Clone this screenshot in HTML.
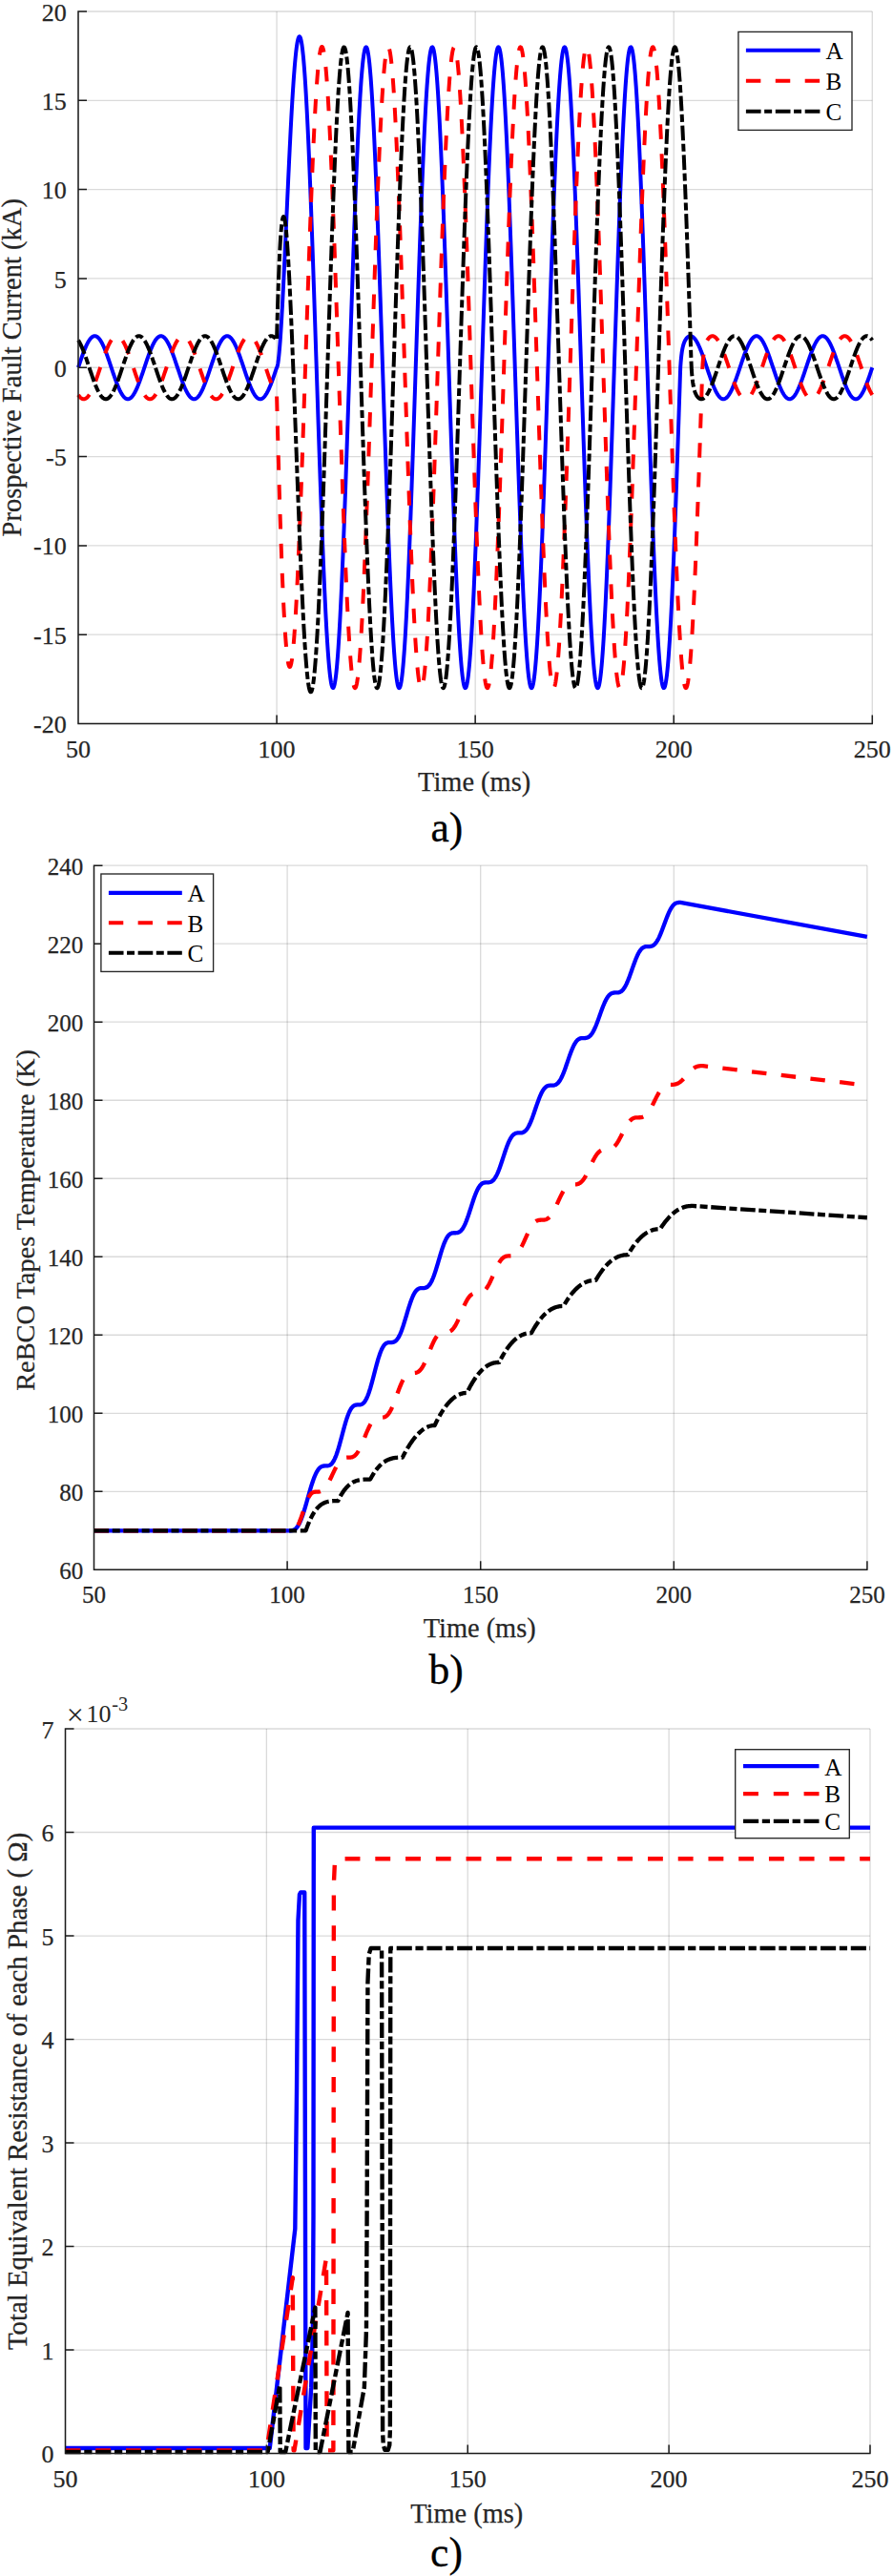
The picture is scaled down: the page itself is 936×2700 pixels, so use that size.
<!DOCTYPE html>
<html lang="en"><head><meta charset="utf-8"><title>Fault current, temperature and resistance</title>
<style>html,body{margin:0;padding:0;background:#fff}svg{display:block}text{font-family:"Liberation Serif", "Times New Roman", serif}</style>
</head><body>
<svg width="936" height="2700" viewBox="0 0 936 2700" role="img" aria-label="Three-phase fault current, ReBCO tape temperature and equivalent resistance versus time">
<rect width="936" height="2700" fill="#fff"/>
<path d="M82 12V758.5M290.07 12V758.5M498.15 12V758.5M706.22 12V758.5M914.3 12V758.5" stroke="#262626" stroke-opacity="0.17" stroke-width="1.3" fill="none"/>
<path d="M82 758.5H914.3M82 665.19H914.3M82 571.88H914.3M82 478.56H914.3M82 385.25H914.3M82 291.94H914.3M82 198.62H914.3M82 105.31H914.3M82 12H914.3" stroke="#262626" stroke-opacity="0.17" stroke-width="1.3" fill="none"/>
<clipPath id="c1"><rect x="79" y="9" width="838.3" height="752.5"/></clipPath>
<g clip-path="url(#c1)" fill="none" stroke-width="4.0" stroke-linejoin="round">
<path d="M82 385.25L82.33 384.25L82.67 383.26L83 382.27L83.33 381.27L83.66 380.29L84 379.31L84.33 378.33L84.66 377.36L85 376.39L85.33 375.44L85.66 374.49L86 373.55L86.33 372.63L86.66 371.71L86.99 370.81L87.33 369.92L87.66 369.05L87.99 368.19L88.33 367.34L88.66 366.51L88.99 365.7L89.32 364.91L89.66 364.13L89.99 363.37L90.32 362.64L90.66 361.92L90.99 361.23L91.32 360.55L91.65 359.9L91.99 359.28L92.32 358.67L92.65 358.09L92.99 357.54L93.32 357.01L93.65 356.51L93.99 356.03L94.32 355.58L94.65 355.15L94.98 354.76L95.32 354.39L95.65 354.05L95.98 353.73L96.32 353.45L96.65 353.19L96.98 352.97L97.31 352.77L97.65 352.6L97.98 352.47L98.31 352.36L98.65 352.28L98.98 352.24L99.31 352.22L99.64 352.23L99.98 352.27L100.31 352.35L100.64 352.45L100.98 352.58L101.31 352.74L101.64 352.93L101.98 353.15L102.31 353.4L102.64 353.68L102.97 353.99L103.31 354.33L103.64 354.69L103.97 355.08L104.31 355.5L104.64 355.95L104.97 356.42L105.3 356.92L105.64 357.45L105.97 358L106.3 358.57L106.64 359.17L106.97 359.8L107.3 360.44L107.63 361.11L107.97 361.8L108.3 362.52L108.63 363.25L108.97 364L109.3 364.78L109.63 365.57L109.97 366.38L110.3 367.2L110.63 368.04L110.96 368.9L111.3 369.77L111.63 370.66L111.96 371.56L112.3 372.47L112.63 373.4L112.96 374.33L113.29 375.28L113.63 376.23L113.96 377.2L114.29 378.17L114.63 379.14L114.96 380.12L115.29 381.11L115.62 382.1L115.96 383.09L116.29 384.09L116.62 385.08L116.96 386.08L117.29 387.08L117.62 388.07L117.96 389.06L118.29 390.05L118.62 391.03L118.95 392.01L119.29 392.98L119.62 393.95L119.95 394.9L120.29 395.85L120.62 396.79L120.95 397.72L121.28 398.63L121.62 399.54L121.95 400.43L122.28 401.31L122.62 402.17L122.95 403.02L123.28 403.85L123.62 404.67L123.95 405.46L124.28 406.24L124.61 407L124.95 407.74L125.28 408.46L125.61 409.16L125.95 409.84L126.28 410.49L126.61 411.12L126.94 411.73L127.28 412.31L127.61 412.87L127.94 413.4L128.28 413.91L128.61 414.39L128.94 414.85L129.27 415.28L129.61 415.68L129.94 416.05L130.27 416.4L130.61 416.72L130.94 417.01L131.27 417.27L131.61 417.5L131.94 417.7L132.27 417.87L132.6 418.01L132.94 418.12L133.27 418.21L133.6 418.26L133.94 418.28L134.27 418.27L134.6 418.24L134.93 418.17L135.27 418.07L135.6 417.94L135.93 417.79L136.27 417.6L136.6 417.38L136.93 417.14L137.26 416.86L137.6 416.56L137.93 416.23L138.26 415.87L138.6 415.48L138.93 415.07L139.26 414.63L139.6 414.16L139.93 413.66L140.26 413.14L140.59 412.59L140.93 412.02L141.26 411.43L141.59 410.81L141.93 410.16L142.26 409.5L142.59 408.81L142.92 408.1L143.26 407.37L143.59 406.62L143.92 405.85L144.26 405.07L144.59 404.26L144.92 403.44L145.25 402.6L145.59 401.74L145.92 400.87L146.25 399.99L146.59 399.09L146.92 398.18L147.25 397.26L147.59 396.32L147.92 395.38L148.25 394.43L148.58 393.46L148.92 392.5L149.25 391.52L149.58 390.54L149.92 389.55L150.25 388.57L150.58 387.57L150.91 386.58L151.25 385.58L151.58 384.59L151.91 383.59L152.25 382.6L152.58 381.6L152.91 380.62L153.24 379.63L153.58 378.65L153.91 377.68L154.24 376.71L154.58 375.76L154.91 374.81L155.24 373.87L155.58 372.94L155.91 372.02L156.24 371.11L156.57 370.22L156.91 369.34L157.24 368.47L157.57 367.62L157.91 366.79L158.24 365.97L158.57 365.17L158.9 364.39L159.24 363.62L159.57 362.88L159.9 362.16L160.24 361.46L160.57 360.78L160.9 360.12L161.23 359.48L161.57 358.87L161.9 358.28L162.23 357.72L162.57 357.18L162.9 356.67L163.23 356.18L163.57 355.72L163.9 355.29L164.23 354.88L164.56 354.51L164.9 354.16L165.23 353.83L165.56 353.54L165.9 353.28L166.23 353.04L166.56 352.83L166.89 352.66L167.23 352.51L167.56 352.39L167.89 352.31L168.23 352.25L168.56 352.22L168.89 352.22L169.23 352.26L169.56 352.32L169.89 352.41L170.22 352.53L170.56 352.68L170.89 352.87L171.22 353.08L171.56 353.32L171.89 353.59L172.22 353.89L172.55 354.21L172.89 354.57L173.22 354.95L173.55 355.36L173.89 355.8L174.22 356.26L174.55 356.75L174.88 357.27L175.22 357.81L175.55 358.38L175.88 358.97L176.22 359.59L176.55 360.23L176.88 360.89L177.22 361.57L177.55 362.28L177.88 363L178.21 363.75L178.55 364.52L178.88 365.3L179.21 366.1L179.55 366.92L179.88 367.76L180.21 368.61L180.54 369.48L180.88 370.36L181.21 371.26L181.54 372.17L181.88 373.09L182.21 374.02L182.54 374.96L182.87 375.91L183.21 376.87L183.54 377.84L183.87 378.82L184.21 379.8L184.54 380.78L184.87 381.77L185.21 382.76L185.54 383.76L185.87 384.75L186.2 385.75L186.54 386.74L186.87 387.74L187.2 388.73L187.54 389.72L187.87 390.7L188.2 391.68L188.53 392.66L188.87 393.63L189.2 394.59L189.53 395.54L189.87 396.48L190.2 397.41L190.53 398.33L190.86 399.24L191.2 400.14L191.53 401.02L191.86 401.89L192.2 402.74L192.53 403.58L192.86 404.4L193.2 405.2L193.53 405.98L193.86 406.75L194.19 407.5L194.53 408.22L194.86 408.93L195.19 409.61L195.53 410.27L195.86 410.91L196.19 411.53L196.52 412.12L196.86 412.69L197.19 413.23L197.52 413.75L197.86 414.24L198.19 414.7L198.52 415.14L198.85 415.55L199.19 415.93L199.52 416.29L199.85 416.61L200.19 416.91L200.52 417.18L200.85 417.42L201.19 417.63L201.52 417.82L201.85 417.97L202.18 418.09L202.52 418.18L202.85 418.24L203.18 418.28L203.52 418.28L203.85 418.25L204.18 418.19L204.51 418.11L204.85 417.99L205.18 417.84L205.51 417.67L205.85 417.46L206.18 417.22L206.51 416.96L206.84 416.67L207.18 416.34L207.51 415.99L207.84 415.62L208.18 415.21L208.51 414.78L208.84 414.32L209.18 413.83L209.51 413.32L209.84 412.78L210.17 412.22L210.51 411.63L210.84 411.02L211.17 410.38L211.51 409.72L211.84 409.04L212.17 408.34L212.5 407.62L212.84 406.88L213.17 406.11L213.5 405.33L213.84 404.53L214.17 403.71L214.5 402.88L214.84 402.03L215.17 401.16L215.5 400.28L215.83 399.39L216.17 398.48L216.5 397.56L216.83 396.63L217.17 395.69L217.5 394.74L217.83 393.79L218.16 392.82L218.5 391.85L218.83 390.87L219.16 389.88L219.5 388.9L219.83 387.9L220.16 386.91L220.49 385.91L220.83 384.92L221.16 383.92L221.49 382.93L221.83 381.93L222.16 380.95L222.49 379.96L222.83 378.98L223.16 378L223.49 377.04L223.82 376.07L224.16 375.12L224.49 374.18L224.82 373.24L225.16 372.32L225.49 371.41L225.82 370.51L226.15 369.63L226.49 368.76L226.82 367.9L227.15 367.06L227.49 366.24L227.82 365.43L228.15 364.65L228.48 363.88L228.82 363.13L229.15 362.4L229.48 361.69L229.82 361L230.15 360.34L230.48 359.69L230.82 359.07L231.15 358.48L231.48 357.91L231.81 357.36L232.15 356.84L232.48 356.34L232.81 355.87L233.15 355.43L233.48 355.02L233.81 354.63L234.14 354.27L234.48 353.94L234.81 353.64L235.14 353.36L235.48 353.12L235.81 352.9L236.14 352.71L236.47 352.56L236.81 352.43L237.14 352.33L237.47 352.26L237.81 352.23L238.14 352.22L238.47 352.24L238.81 352.29L239.14 352.38L239.47 352.49L239.8 352.63L240.14 352.8L240.47 353L240.8 353.23L241.14 353.49L241.47 353.78L241.8 354.1L242.13 354.45L242.47 354.82L242.8 355.22L243.13 355.65L243.47 356.11L243.8 356.59L244.13 357.1L244.46 357.63L244.8 358.19L245.13 358.77L245.46 359.38L245.8 360.01L246.13 360.66L246.46 361.34L246.8 362.04L247.13 362.76L247.46 363.5L247.79 364.26L248.13 365.04L248.46 365.83L248.79 366.65L249.13 367.48L249.46 368.33L249.79 369.19L250.12 370.07L250.46 370.96L250.79 371.87L251.12 372.78L251.46 373.71L251.79 374.65L252.12 375.6L252.46 376.55L252.79 377.52L253.12 378.49L253.45 379.47L253.79 380.45L254.12 381.44L254.45 382.43L254.79 383.42L255.12 384.42L255.45 385.42L255.78 386.41L256.12 387.41L256.45 388.4L256.78 389.39L257.12 390.38L257.45 391.36L257.78 392.33L258.11 393.3L258.45 394.27L258.78 395.22L259.11 396.17L259.45 397.1L259.78 398.03L260.11 398.94L260.45 399.84L260.78 400.73L261.11 401.6L261.44 402.46L261.78 403.3L262.11 404.12L262.44 404.93L262.78 405.72L263.11 406.5L263.44 407.25L263.77 407.98L264.11 408.7L264.44 409.39L264.77 410.06L265.11 410.7L265.44 411.33L265.77 411.93L266.1 412.5L266.44 413.05L266.77 413.58L267.1 414.08L267.44 414.55L267.77 415L268.1 415.42L268.44 415.81L268.77 416.17L269.1 416.51L269.43 416.82L269.77 417.1L270.1 417.35L270.43 417.57L270.77 417.76L271.1 417.92L271.43 418.05L271.76 418.15L272.1 418.23L272.43 418.27L272.76 418.28L273.1 418.26L273.43 418.22L273.76 418.14L274.09 418.03L274.43 417.9L274.76 417.73L275.09 417.53L275.43 417.31L275.76 417.05L276.09 416.77L276.43 416.45L276.76 416.11L277.09 415.74L277.42 415.35L277.76 414.92L278.09 414.47L278.42 413.99L278.76 413.49L279.09 412.96L279.42 412.41L279.75 411.83L280.09 411.22L280.42 410.6L280.75 409.95L281.09 409.27L281.42 408.58L281.75 407.86L282.08 407.13L282.42 406.37L282.75 405.59L283.08 404.8L283.42 403.99L283.75 403.16L284.08 402.31L284.42 401.45L284.75 400.58L285.08 399.69L285.41 398.79L285.75 397.87L286.08 396.95L286.41 396.01L286.75 395.06L287.08 394.11L287.41 393.14L287.74 392.17L288.08 391.19L288.41 390.21L288.74 389.23L289.08 388.23L289.41 387.24L289.74 386.25L290.07 385.25L290.41 384.71L290.74 383.69L291.07 382.21L291.41 380.3L291.74 377.97L292.07 375.25L292.41 372.14L292.74 368.67L293.07 364.85L293.4 360.71L293.74 356.25L294.07 351.51L294.4 346.49L294.74 341.21L295.07 335.68L295.4 329.93L295.73 323.97L296.07 317.81L296.4 311.47L296.73 304.97L297.07 298.32L297.4 291.53L297.73 284.63L298.07 277.61L298.4 270.51L298.73 263.33L299.06 256.08L299.4 248.78L299.73 241.45L300.06 234.09L300.4 226.72L300.73 219.35L301.06 211.99L301.39 204.66L301.73 197.36L302.06 190.11L302.39 182.93L302.73 175.81L303.06 168.78L303.39 161.84L303.72 155L304.06 148.28L304.39 141.68L304.72 135.21L305.06 128.88L305.39 122.71L305.72 116.69L306.06 110.85L306.39 105.18L306.72 99.69L307.05 94.4L307.39 89.31L307.72 84.43L308.05 79.76L308.39 75.31L308.72 71.08L309.05 67.1L309.38 63.34L309.72 59.84L310.05 56.58L310.38 53.58L310.72 50.83L311.05 48.35L311.38 46.13L311.71 44.19L312.05 42.52L312.38 41.12L312.71 40L313.05 39.17L313.38 38.62L313.71 38.35L314.05 38.37L314.38 38.68L314.71 39.27L315.04 40.16L315.38 41.33L315.71 42.79L316.04 44.55L316.38 46.59L316.71 48.91L317.04 51.53L317.37 54.42L317.71 57.6L318.04 61.06L318.37 64.8L318.71 68.81L319.04 73.09L319.37 77.64L319.7 82.46L320.04 87.54L320.37 92.87L320.7 98.46L321.04 104.3L321.37 110.38L321.7 116.7L322.04 123.25L322.37 130.03L322.7 137.03L323.03 144.25L323.37 151.68L323.7 159.31L324.03 167.14L324.37 175.15L324.7 183.35L325.03 191.73L325.36 200.27L325.7 208.98L326.03 217.84L326.36 226.84L326.7 235.99L327.03 245.26L327.36 254.65L327.69 264.16L328.03 273.77L328.36 283.48L328.69 293.28L329.03 303.15L329.36 313.1L329.69 323.1L330.03 333.16L330.36 343.26L330.69 353.4L331.02 363.56L331.36 373.74L331.69 383.92L332.02 394.1L332.36 404.27L332.69 414.42L333.02 424.54L333.35 434.63L333.69 444.66L334.02 454.64L334.35 464.55L334.69 474.39L335.02 484.14L335.35 493.8L335.69 503.37L336.02 512.82L336.35 522.15L336.68 531.36L337.02 540.43L337.35 549.36L337.68 558.14L338.02 566.76L338.35 575.21L338.68 583.49L339.01 591.59L339.35 599.5L339.68 607.21L340.01 614.72L340.35 622.02L340.68 629.1L341.01 635.96L341.34 642.59L341.68 648.98L342.01 655.14L342.34 661.05L342.68 666.7L343.01 672.1L343.34 677.24L343.68 682.11L344.01 686.71L344.34 691.04L344.67 695.08L345.01 698.85L345.34 702.32L345.67 705.51L346.01 708.41L346.34 711.01L346.67 713.32L347 715.33L347.34 717.03L347.67 718.44L348 719.54L348.34 720.33L348.67 720.82L349 721.01L349.33 720.89L349.67 720.46L350 719.73L350.33 718.69L350.67 717.35L351 715.71L351.33 713.77L351.67 711.52L352 708.99L352.33 706.15L352.66 703.02L353 699.61L353.33 695.91L353.66 691.92L354 687.66L354.33 683.12L354.66 678.31L354.99 673.23L355.33 667.89L355.66 662.3L355.99 656.45L356.33 650.35L356.66 644.02L356.99 637.45L357.32 630.64L357.66 623.62L357.99 616.38L358.32 608.93L358.66 601.27L358.99 593.42L359.32 585.38L359.66 577.15L359.99 568.75L360.32 560.19L360.65 551.46L360.99 542.59L361.32 533.57L361.65 524.41L361.99 515.13L362.32 505.73L362.65 496.22L362.98 486.61L363.32 476.91L363.65 467.13L363.98 457.27L364.32 447.34L364.65 437.36L364.98 427.33L365.31 417.26L365.65 407.16L365.98 397.05L366.31 386.92L366.65 376.79L366.98 366.67L367.31 356.56L367.65 346.48L367.98 336.44L368.31 326.44L368.64 316.49L368.98 306.61L369.31 296.8L369.64 287.07L369.98 277.42L370.31 267.88L370.64 258.44L370.97 249.12L371.31 239.92L371.64 230.85L371.97 221.93L372.31 213.15L372.64 204.53L372.97 196.07L373.3 187.79L373.64 179.68L373.97 171.77L374.3 164.04L374.64 156.52L374.97 149.2L375.3 142.1L375.64 135.23L375.97 128.57L376.3 122.16L376.63 115.98L376.97 110.04L377.3 104.36L377.63 98.93L377.97 93.76L378.3 88.86L378.63 84.23L378.96 79.87L379.3 75.79L379.63 71.99L379.96 68.47L380.3 65.24L380.63 62.31L380.96 59.67L381.3 57.32L381.63 55.27L381.96 53.52L382.29 52.08L382.63 50.93L382.96 50.1L383.29 49.56L383.63 49.33L383.96 49.41L384.29 49.79L384.62 50.48L384.96 51.47L385.29 52.76L385.62 54.36L385.96 56.26L386.29 58.46L386.62 60.95L386.95 63.74L387.29 66.82L387.62 70.2L387.95 73.85L388.29 77.8L388.62 82.02L388.95 86.51L389.29 91.28L389.62 96.32L389.95 101.62L390.28 107.17L390.62 112.98L390.95 119.04L391.28 125.34L391.62 131.88L391.95 138.64L392.28 145.63L392.61 152.84L392.95 160.26L393.28 167.89L393.61 175.71L393.95 183.72L394.28 191.92L394.61 200.29L394.94 208.83L395.28 217.53L395.61 226.38L395.94 235.38L396.28 244.52L396.61 253.78L396.94 263.16L397.28 272.65L397.61 282.25L397.94 291.93L398.27 301.71L398.61 311.56L398.94 321.47L399.27 331.45L399.61 341.47L399.94 351.54L400.27 361.63L400.6 371.74L400.94 381.87L401.27 392L401.6 402.13L401.94 412.24L402.27 422.32L402.6 432.37L402.93 442.38L403.27 452.34L403.6 462.23L403.93 472.06L404.27 481.8L404.6 491.46L404.93 501.02L405.27 510.48L405.6 519.82L405.93 529.04L406.26 538.13L406.6 547.08L406.93 555.89L407.26 564.53L407.6 573.02L407.93 581.33L408.26 589.47L408.59 597.42L408.93 605.18L409.26 612.73L409.59 620.08L409.93 627.22L410.26 634.14L410.59 640.83L410.92 647.28L411.26 653.5L411.59 659.48L411.92 665.2L412.26 670.68L412.59 675.89L412.92 680.84L413.26 685.51L413.59 689.92L413.92 694.05L414.25 697.89L414.59 701.46L414.92 704.73L415.25 707.72L415.59 710.41L415.92 712.81L416.25 714.9L416.58 716.7L416.92 718.2L417.25 719.39L417.58 720.28L417.92 720.87L418.25 721.15L418.58 721.12L418.92 720.79L419.25 720.16L419.58 719.22L419.91 717.97L420.25 716.42L420.58 714.58L420.91 712.43L421.25 709.98L421.58 707.24L421.91 704.21L422.24 700.88L422.58 697.27L422.91 693.38L423.24 689.2L423.58 684.75L423.91 680.03L424.24 675.04L424.57 669.78L424.91 664.27L425.24 658.5L425.57 652.48L425.91 646.22L426.24 639.73L426.57 633L426.91 626.05L427.24 618.87L427.57 611.49L427.9 603.9L428.24 596.11L428.57 588.13L428.9 579.96L429.24 571.62L429.57 563.1L429.9 554.43L430.23 545.6L430.57 536.63L430.9 527.52L431.23 518.27L431.57 508.91L431.9 499.44L432.23 489.86L432.56 480.19L432.9 470.43L433.23 460.59L433.56 450.68L433.9 440.72L434.23 430.7L434.56 420.64L434.9 410.55L435.23 400.44L435.56 390.32L435.89 380.18L436.23 370.06L436.56 359.95L436.89 349.86L437.23 339.8L437.56 329.78L437.89 319.82L438.22 309.91L438.56 300.07L438.89 290.31L439.22 280.64L439.56 271.06L439.89 261.59L440.22 252.23L440.55 242.98L440.89 233.87L441.22 224.9L441.55 216.07L441.89 207.4L442.22 198.88L442.55 190.54L442.89 182.37L443.22 174.39L443.55 166.6L443.88 159.01L444.22 151.63L444.55 144.45L444.88 137.5L445.22 130.77L445.55 124.28L445.88 118.02L446.21 112L446.55 106.23L446.88 100.72L447.21 95.46L447.55 90.47L447.88 85.75L448.21 81.3L448.54 77.12L448.88 73.23L449.21 69.62L449.54 66.29L449.88 63.26L450.21 60.52L450.54 58.07L450.88 55.92L451.21 54.08L451.54 52.53L451.87 51.28L452.21 50.34L452.54 49.71L452.87 49.38L453.21 49.35L453.54 49.63L453.87 50.22L454.2 51.11L454.54 52.3L454.87 53.8L455.2 55.6L455.54 57.69L455.87 60.09L456.2 62.78L456.53 65.77L456.87 69.04L457.2 72.61L457.53 76.45L457.87 80.58L458.2 84.99L458.53 89.66L458.87 94.61L459.2 99.82L459.53 105.3L459.86 111.02L460.2 117L460.53 123.22L460.86 129.67L461.2 136.36L461.53 143.28L461.86 150.42L462.19 157.77L462.53 165.32L462.86 173.08L463.19 181.03L463.53 189.17L463.86 197.48L464.19 205.97L464.53 214.61L464.86 223.42L465.19 232.37L465.52 241.46L465.86 250.68L466.19 260.02L466.52 269.48L466.86 279.04L467.19 288.7L467.52 298.44L467.85 308.27L468.19 318.16L468.52 328.12L468.85 338.13L469.19 348.18L469.52 358.26L469.85 368.37L470.18 378.5L470.52 388.63L470.85 398.75L471.18 408.87L471.52 418.96L471.85 429.03L472.18 439.05L472.52 449.03L472.85 458.94L473.18 468.79L473.51 478.56L473.85 488.25L474.18 497.85L474.51 507.34L474.85 516.72L475.18 525.98L475.51 535.12L475.84 544.12L476.18 552.97L476.51 561.67L476.84 570.21L477.18 578.58L477.51 586.78L477.84 594.79L478.17 602.61L478.51 610.24L478.84 617.66L479.17 624.87L479.51 631.86L479.84 638.62L480.17 645.16L480.51 651.46L480.84 657.51L481.17 663.32L481.5 668.88L481.84 674.18L482.17 679.22L482.5 683.98L482.84 688.48L483.17 692.7L483.5 696.64L483.83 700.3L484.17 703.67L484.5 706.76L484.83 709.55L485.17 712.04L485.5 714.24L485.83 716.14L486.16 717.73L486.5 719.03L486.83 720.02L487.16 720.71L487.5 721.09L487.83 721.17L488.16 720.94L488.5 720.4L488.83 719.56L489.16 718.42L489.49 716.97L489.83 715.22L490.16 713.18L490.49 710.83L490.83 708.19L491.16 705.25L491.49 702.02L491.82 698.51L492.16 694.71L492.49 690.63L492.82 686.27L493.16 681.63L493.49 676.73L493.82 671.56L494.15 666.13L494.49 660.45L494.82 654.52L495.15 648.34L495.49 641.92L495.82 635.27L496.15 628.39L496.49 621.29L496.82 613.97L497.15 606.45L497.48 598.73L497.82 590.81L498.15 582.7L498.48 574.42L498.82 565.96L499.15 557.34L499.48 548.56L499.81 539.63L500.15 530.57L500.48 521.37L500.81 512.05L501.15 502.61L501.48 493.06L501.81 483.42L502.15 473.69L502.48 463.88L502.81 453.99L503.14 444.04L503.48 434.04L503.81 424L504.14 413.92L504.48 403.81L504.81 393.69L505.14 383.56L505.47 373.43L505.81 363.31L506.14 353.22L506.47 343.15L506.81 333.12L507.14 323.13L507.47 313.21L507.8 303.35L508.14 293.56L508.47 283.86L508.8 274.24L509.14 264.73L509.47 255.33L509.8 246.05L510.14 236.9L510.47 227.87L510.8 219L511.13 210.27L511.47 201.7L511.8 193.3L512.13 185.08L512.47 177.03L512.8 169.18L513.13 161.52L513.46 154.07L513.8 146.82L514.13 139.79L514.46 132.99L514.8 126.42L515.13 120.08L515.46 113.98L515.79 108.13L516.13 102.53L516.46 97.19L516.79 92.11L517.13 87.29L517.46 82.75L517.79 78.48L518.13 74.49L518.46 70.79L518.79 67.37L519.12 64.24L519.46 61.4L519.79 58.85L520.12 56.61L520.46 54.66L520.79 53.01L521.12 51.67L521.45 50.62L521.79 49.89L522.12 49.45L522.45 49.33L522.79 49.5L523.12 49.99L523.45 50.78L523.78 51.87L524.12 53.27L524.45 54.96L524.78 56.96L525.12 59.26L525.45 61.85L525.78 64.74L526.12 67.92L526.45 71.39L526.78 75.14L527.11 79.17L527.45 83.49L527.78 88.08L528.11 92.93L528.45 98.06L528.78 103.44L529.11 109.08L529.44 114.98L529.78 121.12L530.11 127.49L530.44 134.11L530.78 140.95L531.11 148.01L531.44 155.29L531.77 162.78L532.11 170.47L532.44 178.36L532.77 186.43L533.11 194.69L533.44 203.12L533.77 211.71L534.11 220.47L534.44 229.37L534.77 238.41L535.1 247.59L535.44 256.89L535.77 266.31L536.1 275.84L536.44 285.47L536.77 295.18L537.1 304.98L537.43 314.86L537.77 324.79L538.1 334.79L538.43 344.82L538.77 354.9L539.1 365L539.43 375.12L539.76 385.25L540.1 395.38L540.43 405.5L540.76 415.6L541.1 425.68L541.43 435.71L541.76 445.71L542.1 455.64L542.43 465.52L542.76 475.32L543.09 485.03L543.43 494.66L543.76 504.19L544.09 513.61L544.43 522.91L544.76 532.09L545.09 541.13L545.42 550.03L545.76 558.79L546.09 567.38L546.42 575.81L546.76 584.07L547.09 592.14L547.42 600.03L547.76 607.72L548.09 615.21L548.42 622.49L548.75 629.55L549.09 636.39L549.42 643.01L549.75 649.38L550.09 655.52L550.42 661.42L550.75 667.06L551.08 672.44L551.42 677.57L551.75 682.42L552.08 687.01L552.42 691.33L552.75 695.36L553.08 699.11L553.41 702.58L553.75 705.76L554.08 708.65L554.41 711.24L554.75 713.54L555.08 715.54L555.41 717.23L555.75 718.63L556.08 719.72L556.41 720.51L556.74 721L557.08 721.17L557.41 721.05L557.74 720.61L558.08 719.88L558.41 718.83L558.74 717.49L559.07 715.84L559.41 713.89L559.74 711.65L560.07 709.1L560.41 706.26L560.74 703.13L561.07 699.71L561.4 696.01L561.74 692.02L562.07 687.75L562.4 683.21L562.74 678.39L563.07 673.31L563.4 667.97L563.74 662.37L564.07 656.52L564.4 650.42L564.73 644.08L565.07 637.51L565.4 630.71L565.73 623.68L566.07 616.43L566.4 608.98L566.73 601.32L567.06 593.47L567.4 585.42L567.73 577.2L568.06 568.8L568.4 560.23L568.73 551.5L569.06 542.63L569.39 533.6L569.73 524.45L570.06 515.17L570.39 505.77L570.73 496.26L571.06 486.64L571.39 476.94L571.73 467.15L572.06 457.29L572.39 447.37L572.72 437.38L573.06 427.35L573.39 417.28L573.72 407.19L574.06 397.07L574.39 386.94L574.72 376.81L575.05 366.69L575.39 356.58L575.72 346.5L576.05 336.46L576.39 326.46L576.72 316.51L577.05 306.62L577.38 296.81L577.72 287.08L578.05 277.44L578.38 267.89L578.72 258.45L579.05 249.13L579.38 239.93L579.72 230.87L580.05 221.94L580.38 213.16L580.71 204.54L581.05 196.08L581.38 187.8L581.71 179.69L582.05 171.77L582.38 164.05L582.71 156.53L583.04 149.21L583.38 142.11L583.71 135.23L584.04 128.58L584.38 122.16L584.71 115.98L585.04 110.05L585.38 104.37L585.71 98.94L586.04 93.77L586.37 88.87L586.71 84.23L587.04 79.87L587.37 75.79L587.71 71.99L588.04 68.48L588.37 65.25L588.7 62.31L589.04 59.67L589.37 57.32L589.7 55.28L590.04 53.53L590.37 52.08L590.7 50.94L591.03 50.1L591.37 49.56L591.7 49.33L592.03 49.41L592.37 49.79L592.7 50.48L593.03 51.47L593.37 52.77L593.7 54.36L594.03 56.26L594.36 58.46L594.7 60.95L595.03 63.74L595.36 66.83L595.7 70.2L596.03 73.86L596.36 77.8L596.69 82.02L597.03 86.52L597.36 91.28L597.69 96.32L598.03 101.62L598.36 107.18L598.69 112.99L599.02 119.04L599.36 125.34L599.69 131.88L600.02 138.64L600.36 145.63L600.69 152.84L601.02 160.26L601.36 167.89L601.69 175.71L602.02 183.72L602.35 191.92L602.69 200.29L603.02 208.83L603.35 217.53L603.69 226.38L604.02 235.38L604.35 244.52L604.68 253.78L605.02 263.16L605.35 272.65L605.68 282.25L606.02 291.94L606.35 301.71L606.68 311.56L607.01 321.47L607.35 331.45L607.68 341.47L608.01 351.54L608.35 361.63L608.68 371.75L609.01 381.87L609.35 392L609.68 402.13L610.01 412.24L610.34 422.32L610.68 432.37L611.01 442.38L611.34 452.34L611.68 462.23L612.01 472.06L612.34 481.8L612.67 491.46L613.01 501.02L613.34 510.48L613.67 519.82L614.01 529.04L614.34 538.13L614.67 547.08L615 555.89L615.34 564.53L615.67 573.02L616 581.33L616.34 589.47L616.67 597.42L617 605.18L617.34 612.73L617.67 620.08L618 627.22L618.33 634.14L618.67 640.83L619 647.28L619.33 653.5L619.67 659.48L620 665.2L620.33 670.68L620.66 675.89L621 680.84L621.33 685.51L621.66 689.92L622 694.05L622.33 697.89L622.66 701.46L623 704.73L623.33 707.72L623.66 710.41L623.99 712.81L624.33 714.9L624.66 716.7L624.99 718.2L625.33 719.39L625.66 720.28L625.99 720.87L626.32 721.15L626.66 721.12L626.99 720.79L627.32 720.16L627.66 719.22L627.99 717.97L628.32 716.42L628.65 714.58L628.99 712.43L629.32 709.98L629.65 707.24L629.99 704.21L630.32 700.88L630.65 697.27L630.99 693.38L631.32 689.2L631.65 684.75L631.98 680.03L632.32 675.04L632.65 669.78L632.98 664.27L633.32 658.5L633.65 652.48L633.98 646.22L634.31 639.73L634.65 633L634.98 626.05L635.31 618.87L635.65 611.49L635.98 603.9L636.31 596.11L636.64 588.13L636.98 579.96L637.31 571.62L637.64 563.1L637.98 554.43L638.31 545.6L638.64 536.63L638.98 527.52L639.31 518.27L639.64 508.91L639.97 499.44L640.31 489.86L640.64 480.19L640.97 470.43L641.31 460.59L641.64 450.68L641.97 440.72L642.3 430.7L642.64 420.64L642.97 410.55L643.3 400.44L643.64 390.32L643.97 380.18L644.3 370.06L644.63 359.95L644.97 349.86L645.3 339.8L645.63 329.78L645.97 319.82L646.3 309.91L646.63 300.07L646.97 290.31L647.3 280.64L647.63 271.06L647.96 261.59L648.3 252.23L648.63 242.98L648.96 233.87L649.3 224.9L649.63 216.07L649.96 207.4L650.29 198.88L650.63 190.54L650.96 182.37L651.29 174.39L651.63 166.6L651.96 159.01L652.29 151.63L652.62 144.45L652.96 137.5L653.29 130.77L653.62 124.28L653.96 118.02L654.29 112L654.62 106.23L654.96 100.72L655.29 95.46L655.62 90.47L655.95 85.75L656.29 81.3L656.62 77.12L656.95 73.23L657.29 69.62L657.62 66.29L657.95 63.26L658.28 60.52L658.62 58.07L658.95 55.92L659.28 54.08L659.62 52.53L659.95 51.28L660.28 50.34L660.61 49.71L660.95 49.38L661.28 49.35L661.61 49.63L661.95 50.22L662.28 51.11L662.61 52.3L662.95 53.8L663.28 55.6L663.61 57.69L663.94 60.09L664.28 62.78L664.61 65.77L664.94 69.04L665.28 72.61L665.61 76.45L665.94 80.58L666.27 84.99L666.61 89.66L666.94 94.61L667.27 99.82L667.61 105.3L667.94 111.02L668.27 117L668.61 123.22L668.94 129.67L669.27 136.36L669.6 143.28L669.94 150.42L670.27 157.77L670.6 165.32L670.94 173.08L671.27 181.03L671.6 189.17L671.93 197.48L672.27 205.97L672.6 214.61L672.93 223.42L673.27 232.37L673.6 241.46L673.93 250.68L674.26 260.02L674.6 269.48L674.93 279.04L675.26 288.7L675.6 298.44L675.93 308.27L676.26 318.16L676.6 328.12L676.93 338.13L677.26 348.18L677.59 358.26L677.93 368.37L678.26 378.5L678.59 388.63L678.93 398.75L679.26 408.87L679.59 418.96L679.92 429.03L680.26 439.05L680.59 449.03L680.92 458.94L681.26 468.79L681.59 478.56L681.92 488.25L682.25 497.85L682.59 507.34L682.92 516.72L683.25 525.98L683.59 535.12L683.92 544.12L684.25 552.97L684.59 561.67L684.92 570.21L685.25 578.58L685.58 586.78L685.92 594.79L686.25 602.61L686.58 610.24L686.92 617.66L687.25 624.87L687.58 631.86L687.91 638.62L688.25 645.16L688.58 651.46L688.91 657.51L689.25 663.32L689.58 668.88L689.91 674.18L690.24 679.22L690.58 683.98L690.91 688.48L691.24 692.7L691.58 696.64L691.91 700.3L692.24 703.67L692.58 706.76L692.91 709.55L693.24 712.04L693.57 714.24L693.91 716.14L694.24 717.73L694.57 719.03L694.91 720.02L695.24 720.71L695.57 721.09L695.9 721.17L696.24 720.94L696.57 720.4L696.9 719.56L697.24 718.42L697.57 716.97L697.9 715.22L698.23 713.18L698.57 710.83L698.9 708.19L699.23 705.25L699.57 702.02L699.9 698.51L700.23 694.71L700.57 690.63L700.9 686.27L701.23 681.63L701.56 676.73L701.9 671.56L702.23 666.13L702.56 660.45L702.9 654.52L703.23 648.34L703.56 641.92L703.89 635.27L704.23 628.39L704.56 621.29L704.89 613.97L705.23 606.45L705.56 598.73L705.89 590.81L706.22 582.7L706.56 574.42L706.89 565.96L707.22 557.34L707.56 548.56L707.89 539.63L708.22 530.57L708.56 521.37L708.89 512.05L709.22 502.61L709.55 493.06L709.89 483.42L710.22 473.69L710.55 463.88L710.89 453.99L711.22 444.04L711.55 434.04L711.88 424L712.22 413.92L712.55 403.81L712.88 393.69L713.22 384.39L713.55 379.78L713.88 375.96L714.22 372.79L714.55 370.13L714.88 367.88L715.21 365.97L715.55 364.33L715.88 362.91L716.21 361.67L716.55 360.57L716.88 359.61L717.21 358.74L717.54 357.97L717.88 357.27L718.21 356.63L718.54 356.06L718.88 355.54L719.21 355.06L719.54 354.63L719.87 354.24L720.21 353.89L720.54 353.57L720.87 353.29L721.21 353.05L721.54 352.83L721.87 352.65L722.21 352.51L722.54 352.39L722.87 352.31L723.2 352.25L723.54 352.23L723.87 352.24L724.2 352.28L724.54 352.35L724.87 352.45L725.2 352.58L725.53 352.75L725.87 352.94L726.2 353.16L726.53 353.41L726.87 353.69L727.2 353.99L727.53 354.33L727.86 354.69L728.2 355.09L728.53 355.5L728.86 355.95L729.2 356.42L729.53 356.92L729.86 357.45L730.2 358L730.53 358.58L730.86 359.17L731.19 359.8L731.53 360.44L731.86 361.11L732.19 361.8L732.53 362.52L732.86 363.25L733.19 364L733.52 364.78L733.86 365.57L734.19 366.38L734.52 367.2L734.86 368.04L735.19 368.9L735.52 369.77L735.85 370.66L736.19 371.56L736.52 372.47L736.85 373.4L737.19 374.33L737.52 375.28L737.85 376.23L738.19 377.2L738.52 378.17L738.85 379.14L739.18 380.12L739.52 381.11L739.85 382.1L740.18 383.09L740.52 384.09L740.85 385.08L741.18 386.08L741.51 387.08L741.85 388.07L742.18 389.06L742.51 390.05L742.85 391.03L743.18 392.01L743.51 392.98L743.84 393.95L744.18 394.9L744.51 395.85L744.84 396.79L745.18 397.72L745.51 398.63L745.84 399.54L746.18 400.43L746.51 401.31L746.84 402.17L747.17 403.02L747.51 403.85L747.84 404.67L748.17 405.46L748.51 406.24L748.84 407L749.17 407.74L749.5 408.46L749.84 409.16L750.17 409.84L750.5 410.49L750.84 411.12L751.17 411.73L751.5 412.31L751.84 412.87L752.17 413.4L752.5 413.91L752.83 414.39L753.17 414.85L753.5 415.28L753.83 415.68L754.17 416.05L754.5 416.4L754.83 416.72L755.16 417.01L755.5 417.27L755.83 417.5L756.16 417.7L756.5 417.87L756.83 418.01L757.16 418.12L757.49 418.21L757.83 418.26L758.16 418.28L758.49 418.27L758.83 418.24L759.16 418.17L759.49 418.07L759.83 417.94L760.16 417.79L760.49 417.6L760.82 417.38L761.16 417.14L761.49 416.86L761.82 416.56L762.16 416.23L762.49 415.87L762.82 415.48L763.15 415.07L763.49 414.63L763.82 414.16L764.15 413.66L764.49 413.14L764.82 412.59L765.15 412.02L765.48 411.43L765.82 410.81L766.15 410.16L766.48 409.5L766.82 408.81L767.15 408.1L767.48 407.37L767.82 406.62L768.15 405.85L768.48 405.07L768.81 404.26L769.15 403.44L769.48 402.6L769.81 401.74L770.15 400.87L770.48 399.99L770.81 399.09L771.14 398.18L771.48 397.26L771.81 396.32L772.14 395.38L772.48 394.43L772.81 393.46L773.14 392.5L773.47 391.52L773.81 390.54L774.14 389.55L774.47 388.57L774.81 387.57L775.14 386.58L775.47 385.58L775.81 384.59L776.14 383.59L776.47 382.6L776.8 381.6L777.14 380.62L777.47 379.63L777.8 378.65L778.14 377.68L778.47 376.71L778.8 375.76L779.13 374.81L779.47 373.87L779.8 372.94L780.13 372.02L780.47 371.11L780.8 370.22L781.13 369.34L781.46 368.47L781.8 367.62L782.13 366.79L782.46 365.97L782.8 365.17L783.13 364.39L783.46 363.62L783.8 362.88L784.13 362.16L784.46 361.46L784.79 360.78L785.13 360.12L785.46 359.48L785.79 358.87L786.13 358.28L786.46 357.72L786.79 357.18L787.12 356.67L787.46 356.18L787.79 355.72L788.12 355.29L788.46 354.88L788.79 354.51L789.12 354.16L789.45 353.83L789.79 353.54L790.12 353.28L790.45 353.04L790.79 352.83L791.12 352.66L791.45 352.51L791.79 352.39L792.12 352.31L792.45 352.25L792.78 352.22L793.12 352.22L793.45 352.26L793.78 352.32L794.12 352.41L794.45 352.53L794.78 352.68L795.11 352.87L795.45 353.08L795.78 353.32L796.11 353.59L796.45 353.89L796.78 354.21L797.11 354.57L797.45 354.95L797.78 355.36L798.11 355.8L798.44 356.26L798.78 356.75L799.11 357.27L799.44 357.81L799.78 358.38L800.11 358.97L800.44 359.59L800.77 360.23L801.11 360.89L801.44 361.57L801.77 362.28L802.11 363L802.44 363.75L802.77 364.52L803.1 365.3L803.44 366.1L803.77 366.92L804.1 367.76L804.44 368.61L804.77 369.48L805.1 370.36L805.44 371.26L805.77 372.17L806.1 373.09L806.43 374.02L806.77 374.96L807.1 375.91L807.43 376.87L807.77 377.84L808.1 378.82L808.43 379.8L808.76 380.78L809.1 381.77L809.43 382.76L809.76 383.76L810.1 384.75L810.43 385.75L810.76 386.74L811.09 387.74L811.43 388.73L811.76 389.72L812.09 390.7L812.43 391.68L812.76 392.66L813.09 393.63L813.43 394.59L813.76 395.54L814.09 396.48L814.42 397.41L814.76 398.33L815.09 399.24L815.42 400.14L815.76 401.02L816.09 401.89L816.42 402.74L816.75 403.58L817.09 404.4L817.42 405.2L817.75 405.98L818.09 406.75L818.42 407.5L818.75 408.22L819.08 408.93L819.42 409.61L819.75 410.27L820.08 410.91L820.42 411.53L820.75 412.12L821.08 412.69L821.42 413.23L821.75 413.75L822.08 414.24L822.41 414.7L822.75 415.14L823.08 415.55L823.41 415.93L823.75 416.29L824.08 416.61L824.41 416.91L824.74 417.18L825.08 417.42L825.41 417.63L825.74 417.82L826.08 417.97L826.41 418.09L826.74 418.18L827.07 418.24L827.41 418.28L827.74 418.28L828.07 418.25L828.41 418.19L828.74 418.11L829.07 417.99L829.41 417.84L829.74 417.67L830.07 417.46L830.4 417.22L830.74 416.96L831.07 416.67L831.4 416.34L831.74 415.99L832.07 415.62L832.4 415.21L832.73 414.78L833.07 414.32L833.4 413.83L833.73 413.32L834.07 412.78L834.4 412.22L834.73 411.63L835.07 411.02L835.4 410.38L835.73 409.72L836.06 409.04L836.4 408.34L836.73 407.62L837.06 406.88L837.4 406.11L837.73 405.33L838.06 404.53L838.39 403.71L838.73 402.88L839.06 402.03L839.39 401.16L839.73 400.28L840.06 399.39L840.39 398.48L840.72 397.56L841.06 396.63L841.39 395.69L841.72 394.74L842.06 393.79L842.39 392.82L842.72 391.85L843.06 390.87L843.39 389.88L843.72 388.9L844.05 387.9L844.39 386.91L844.72 385.91L845.05 384.92L845.39 383.92L845.72 382.93L846.05 381.93L846.38 380.95L846.72 379.96L847.05 378.98L847.38 378L847.72 377.04L848.05 376.07L848.38 375.12L848.71 374.18L849.05 373.24L849.38 372.32L849.71 371.41L850.05 370.51L850.38 369.63L850.71 368.76L851.05 367.9L851.38 367.06L851.71 366.24L852.04 365.43L852.38 364.65L852.71 363.88L853.04 363.13L853.38 362.4L853.71 361.69L854.04 361L854.37 360.34L854.71 359.69L855.04 359.07L855.37 358.48L855.71 357.91L856.04 357.36L856.37 356.84L856.7 356.34L857.04 355.87L857.37 355.43L857.7 355.02L858.04 354.63L858.37 354.27L858.7 353.94L859.04 353.64L859.37 353.36L859.7 353.12L860.03 352.9L860.37 352.71L860.7 352.56L861.03 352.43L861.37 352.33L861.7 352.26L862.03 352.23L862.36 352.22L862.7 352.24L863.03 352.29L863.36 352.38L863.7 352.49L864.03 352.63L864.36 352.8L864.69 353L865.03 353.23L865.36 353.49L865.69 353.78L866.03 354.1L866.36 354.45L866.69 354.82L867.03 355.22L867.36 355.65L867.69 356.11L868.02 356.59L868.36 357.1L868.69 357.63L869.02 358.19L869.36 358.77L869.69 359.38L870.02 360.01L870.35 360.66L870.69 361.34L871.02 362.04L871.35 362.76L871.69 363.5L872.02 364.26L872.35 365.04L872.68 365.83L873.02 366.65L873.35 367.48L873.68 368.33L874.02 369.19L874.35 370.07L874.68 370.96L875.02 371.87L875.35 372.78L875.68 373.71L876.01 374.65L876.35 375.6L876.68 376.55L877.01 377.52L877.35 378.49L877.68 379.47L878.01 380.45L878.34 381.44L878.68 382.43L879.01 383.42L879.34 384.42L879.68 385.42L880.01 386.41L880.34 387.41L880.68 388.4L881.01 389.39L881.34 390.38L881.67 391.36L882.01 392.33L882.34 393.3L882.67 394.27L883.01 395.22L883.34 396.17L883.67 397.1L884 398.03L884.34 398.94L884.67 399.84L885 400.73L885.34 401.6L885.67 402.46L886 403.3L886.33 404.12L886.67 404.93L887 405.72L887.33 406.5L887.67 407.25L888 407.98L888.33 408.7L888.67 409.39L889 410.06L889.33 410.7L889.66 411.33L890 411.93L890.33 412.5L890.66 413.05L891 413.58L891.33 414.08L891.66 414.55L891.99 415L892.33 415.42L892.66 415.81L892.99 416.17L893.33 416.51L893.66 416.82L893.99 417.1L894.32 417.35L894.66 417.57L894.99 417.76L895.32 417.92L895.66 418.05L895.99 418.15L896.32 418.23L896.66 418.27L896.99 418.28L897.32 418.26L897.65 418.22L897.99 418.14L898.32 418.03L898.65 417.9L898.99 417.73L899.32 417.53L899.65 417.31L899.98 417.05L900.32 416.77L900.65 416.45L900.98 416.11L901.32 415.74L901.65 415.35L901.98 414.92L902.31 414.47L902.65 413.99L902.98 413.49L903.31 412.96L903.65 412.41L903.98 411.83L904.31 411.22L904.65 410.6L904.98 409.95L905.31 409.27L905.64 408.58L905.98 407.86L906.31 407.13L906.64 406.37L906.98 405.59L907.31 404.8L907.64 403.99L907.97 403.16L908.31 402.31L908.64 401.45L908.97 400.58L909.31 399.69L909.64 398.79L909.97 397.87L910.3 396.95L910.64 396.01L910.97 395.06L911.3 394.11L911.64 393.14L911.97 392.17L912.3 391.19L912.64 390.21L912.97 389.23L913.3 388.23L913.63 387.24L913.97 386.25L914.3 385.25" stroke="#0000ff"/>
<path d="M82 413.86L82.33 414.34L82.67 414.8L83 415.23L83.33 415.64L83.66 416.01L84 416.36L84.33 416.68L84.66 416.97L85 417.24L85.33 417.47L85.66 417.68L86 417.85L86.33 418L86.66 418.11L86.99 418.2L87.33 418.25L87.66 418.28L87.99 418.28L88.33 418.24L88.66 418.18L88.99 418.08L89.32 417.96L89.66 417.81L89.99 417.62L90.32 417.41L90.66 417.17L90.99 416.9L91.32 416.6L91.65 416.27L91.99 415.91L92.32 415.53L92.65 415.12L92.99 414.68L93.32 414.21L93.65 413.72L93.99 413.2L94.32 412.66L94.65 412.09L94.98 411.49L95.32 410.88L95.65 410.24L95.98 409.57L96.32 408.89L96.65 408.18L96.98 407.46L97.31 406.71L97.65 405.94L97.98 405.16L98.31 404.35L98.65 403.53L98.98 402.69L99.31 401.84L99.64 400.97L99.98 400.09L100.31 399.19L100.64 398.28L100.98 397.36L101.31 396.43L101.64 395.48L101.98 394.53L102.31 393.57L102.64 392.6L102.97 391.63L103.31 390.65L103.64 389.66L103.97 388.68L104.31 387.68L104.64 386.69L104.97 385.69L105.3 384.7L105.64 383.7L105.97 382.71L106.3 381.71L106.64 380.73L106.97 379.74L107.3 378.76L107.63 377.79L107.97 376.82L108.3 375.86L108.63 374.91L108.97 373.97L109.3 373.04L109.63 372.12L109.97 371.21L110.3 370.32L110.63 369.43L110.96 368.57L111.3 367.71L111.63 366.88L111.96 366.06L112.3 365.26L112.63 364.47L112.96 363.71L113.29 362.96L113.63 362.24L113.96 361.53L114.29 360.85L114.63 360.19L114.96 359.55L115.29 358.94L115.62 358.35L115.96 357.78L116.29 357.24L116.62 356.73L116.96 356.24L117.29 355.77L117.62 355.34L117.96 354.93L118.29 354.55L118.62 354.19L118.95 353.87L119.29 353.57L119.62 353.3L119.95 353.07L120.29 352.86L120.62 352.68L120.95 352.52L121.28 352.4L121.62 352.31L121.95 352.25L122.28 352.22L122.62 352.22L122.95 352.25L123.28 352.31L123.62 352.4L123.95 352.52L124.28 352.67L124.61 352.84L124.95 353.05L125.28 353.29L125.61 353.56L125.95 353.85L126.28 354.17L126.61 354.53L126.94 354.91L127.28 355.31L127.61 355.75L127.94 356.21L128.28 356.7L128.61 357.21L128.94 357.75L129.27 358.32L129.61 358.91L129.94 359.52L130.27 360.15L130.61 360.81L130.94 361.49L131.27 362.2L131.61 362.92L131.94 363.67L132.27 364.43L132.6 365.21L132.94 366.01L133.27 366.83L133.6 367.67L133.94 368.52L134.27 369.38L134.6 370.27L134.93 371.16L135.27 372.07L135.6 372.99L135.93 373.92L136.27 374.86L136.6 375.81L136.93 376.77L137.26 377.73L137.6 378.71L137.93 379.69L138.26 380.67L138.6 381.66L138.93 382.65L139.26 383.65L139.6 384.64L139.93 385.64L140.26 386.63L140.59 387.63L140.93 388.62L141.26 389.61L141.59 390.6L141.93 391.58L142.26 392.55L142.59 393.52L142.92 394.48L143.26 395.43L143.59 396.37L143.92 397.31L144.26 398.23L144.59 399.14L144.92 400.04L145.25 400.92L145.59 401.79L145.92 402.64L146.25 403.48L146.59 404.31L146.92 405.11L147.25 405.9L147.59 406.67L147.92 407.41L148.25 408.14L148.58 408.85L148.92 409.54L149.25 410.2L149.58 410.84L149.92 411.46L150.25 412.06L150.58 412.62L150.91 413.17L151.25 413.69L151.58 414.18L151.91 414.65L152.25 415.09L152.58 415.51L152.91 415.89L153.24 416.25L153.58 416.58L153.91 416.88L154.24 417.15L154.58 417.4L154.91 417.61L155.24 417.8L155.58 417.95L155.91 418.08L156.24 418.17L156.57 418.24L156.91 418.28L157.24 418.28L157.57 418.26L157.91 418.2L158.24 418.12L158.57 418L158.9 417.86L159.24 417.69L159.57 417.48L159.9 417.25L160.24 416.99L160.57 416.7L160.9 416.38L161.23 416.03L161.57 415.66L161.9 415.26L162.23 414.83L162.57 414.37L162.9 413.88L163.23 413.38L163.57 412.84L163.9 412.28L164.23 411.69L164.56 411.09L164.9 410.45L165.23 409.8L165.56 409.12L165.9 408.42L166.23 407.7L166.56 406.96L166.89 406.2L167.23 405.42L167.56 404.62L167.89 403.81L168.23 402.97L168.56 402.12L168.89 401.26L169.23 400.38L169.56 399.49L169.89 398.58L170.22 397.67L170.56 396.74L170.89 395.8L171.22 394.85L171.56 393.89L171.89 392.93L172.22 391.96L172.55 390.98L172.89 389.99L173.22 389.01L173.55 388.01L173.89 387.02L174.22 386.02L174.55 385.03L174.88 384.03L175.22 383.04L175.55 382.04L175.88 381.06L176.22 380.07L176.55 379.09L176.88 378.11L177.22 377.14L177.55 376.18L177.88 375.23L178.21 374.28L178.55 373.35L178.88 372.42L179.21 371.51L179.55 370.61L179.88 369.73L180.21 368.85L180.54 368L180.88 367.15L181.21 366.33L181.54 365.52L181.88 364.73L182.21 363.96L182.54 363.21L182.87 362.48L183.21 361.77L183.54 361.08L183.87 360.41L184.21 359.76L184.54 359.14L184.87 358.54L185.21 357.97L185.54 357.42L185.87 356.9L186.2 356.4L186.54 355.93L186.87 355.48L187.2 355.06L187.54 354.67L187.87 354.31L188.2 353.97L188.53 353.67L188.87 353.39L189.2 353.14L189.53 352.92L189.87 352.73L190.2 352.57L190.53 352.44L190.86 352.34L191.2 352.27L191.53 352.23L191.86 352.22L192.2 352.24L192.53 352.29L192.86 352.37L193.2 352.47L193.53 352.61L193.86 352.78L194.19 352.98L194.53 353.21L194.86 353.46L195.19 353.75L195.53 354.06L195.86 354.41L196.19 354.78L196.52 355.18L196.86 355.6L197.19 356.05L197.52 356.53L197.86 357.04L198.19 357.57L198.52 358.13L198.85 358.71L199.19 359.31L199.52 359.94L199.85 360.59L200.19 361.27L200.52 361.96L200.85 362.68L201.19 363.42L201.52 364.17L201.85 364.95L202.18 365.74L202.52 366.56L202.85 367.39L203.18 368.23L203.52 369.09L203.85 369.97L204.18 370.86L204.51 371.76L204.85 372.68L205.18 373.61L205.51 374.54L205.85 375.49L206.18 376.45L206.51 377.41L206.84 378.38L207.18 379.36L207.51 380.34L207.84 381.33L208.18 382.32L208.51 383.31L208.84 384.31L209.18 385.31L209.51 386.3L209.84 387.3L210.17 388.29L210.51 389.28L210.84 390.27L211.17 391.25L211.51 392.23L211.84 393.2L212.17 394.16L212.5 395.11L212.84 396.06L213.17 397L213.5 397.92L213.84 398.84L214.17 399.74L214.5 400.63L214.84 401.5L215.17 402.36L215.5 403.21L215.83 404.03L216.17 404.84L216.5 405.64L216.83 406.41L217.17 407.17L217.5 407.9L217.83 408.62L218.16 409.31L218.5 409.98L218.83 410.63L219.16 411.26L219.5 411.86L219.83 412.44L220.16 412.99L220.49 413.52L220.83 414.02L221.16 414.5L221.49 414.95L221.83 415.37L222.16 415.77L222.49 416.13L222.83 416.47L223.16 416.78L223.49 417.07L223.82 417.32L224.16 417.54L224.49 417.74L224.82 417.9L225.16 418.04L225.49 418.14L225.82 418.22L226.15 418.27L226.49 418.28L226.82 418.27L227.15 418.22L227.49 418.15L227.82 418.05L228.15 417.91L228.48 417.75L228.82 417.56L229.15 417.33L229.48 417.08L229.82 416.8L230.15 416.49L230.48 416.15L230.82 415.79L231.15 415.39L231.48 414.97L231.81 414.52L232.15 414.05L232.48 413.55L232.81 413.02L233.15 412.47L233.48 411.89L233.81 411.29L234.14 410.67L234.48 410.02L234.81 409.35L235.14 408.66L235.48 407.94L235.81 407.21L236.14 406.45L236.47 405.68L236.81 404.89L237.14 404.08L237.47 403.25L237.81 402.41L238.14 401.55L238.47 400.68L238.81 399.79L239.14 398.89L239.47 397.97L239.8 397.05L240.14 396.11L240.47 395.17L240.8 394.21L241.14 393.25L241.47 392.28L241.8 391.3L242.13 390.32L242.47 389.34L242.8 388.34L243.13 387.35L243.47 386.36L243.8 385.36L244.13 384.36L244.46 383.37L244.8 382.38L245.13 381.38L245.46 380.4L245.8 379.41L246.13 378.44L246.46 377.46L246.8 376.5L247.13 375.54L247.46 374.6L247.79 373.66L248.13 372.73L248.46 371.81L248.79 370.91L249.13 370.02L249.46 369.14L249.79 368.28L250.12 367.43L250.46 366.6L250.79 365.79L251.12 364.99L251.46 364.22L251.79 363.46L252.12 362.72L252.46 362L252.79 361.3L253.12 360.63L253.45 359.98L253.79 359.35L254.12 358.74L254.45 358.16L254.79 357.6L255.12 357.07L255.45 356.56L255.78 356.08L256.12 355.63L256.45 355.2L256.78 354.8L257.12 354.43L257.45 354.08L257.78 353.77L258.11 353.48L258.45 353.22L258.78 352.99L259.11 352.79L259.45 352.62L259.78 352.48L260.11 352.37L260.45 352.29L260.78 352.24L261.11 352.22L261.44 352.23L261.78 352.27L262.11 352.34L262.44 352.43L262.78 352.56L263.11 352.72L263.44 352.91L263.77 353.13L264.11 353.38L264.44 353.65L264.77 353.96L265.11 354.29L265.44 354.65L265.77 355.04L266.1 355.46L266.44 355.9L266.77 356.37L267.1 356.87L267.44 357.39L267.77 357.94L268.1 358.51L268.44 359.11L268.77 359.73L269.1 360.37L269.43 361.04L269.77 361.73L270.1 362.44L270.43 363.17L270.77 363.92L271.1 364.69L271.43 365.48L271.76 366.28L272.1 367.11L272.43 367.95L272.76 368.81L273.1 369.68L273.43 370.56L273.76 371.46L274.09 372.37L274.43 373.3L274.76 374.23L275.09 375.17L275.43 376.13L275.76 377.09L276.09 378.06L276.43 379.03L276.76 380.01L277.09 381L277.42 381.99L277.76 382.98L278.09 383.98L278.42 384.97L278.76 385.97L279.09 386.96L279.42 387.96L279.75 388.95L280.09 389.94L280.42 390.92L280.75 391.9L281.09 392.87L281.42 393.84L281.75 394.8L282.08 395.75L282.42 396.69L282.75 397.62L283.08 398.53L283.42 399.44L283.75 400.33L284.08 401.21L284.42 402.08L284.75 402.93L285.08 403.76L285.41 404.58L285.75 405.38L286.08 406.16L286.41 406.92L286.75 407.66L287.08 408.38L287.41 409.08L287.74 409.76L288.08 410.42L288.41 411.05L288.74 411.66L289.08 412.25L289.41 412.81L289.74 413.35L290.07 413.86L290.41 427.28L290.74 440.41L291.07 453.24L291.41 465.77L291.74 477.99L292.07 489.91L292.41 501.51L292.74 512.81L293.07 523.79L293.4 534.46L293.74 544.81L294.07 554.84L294.4 564.55L294.74 573.94L295.07 583L295.4 591.73L295.73 600.12L296.07 608.19L296.4 615.92L296.73 623.32L297.07 630.37L297.4 637.09L297.73 643.47L298.07 649.5L298.4 655.19L298.73 660.53L299.06 665.53L299.4 670.18L299.73 674.48L300.06 678.43L300.4 682.04L300.73 685.29L301.06 688.2L301.39 690.76L301.73 692.98L302.06 694.85L302.39 696.37L302.73 697.54L303.06 698.38L303.39 698.87L303.72 699.02L304.06 698.83L304.39 698.31L304.72 697.45L305.06 696.27L305.39 694.75L305.72 692.91L306.06 690.76L306.39 688.28L306.72 685.49L307.05 682.39L307.39 678.98L307.72 675.27L308.05 671.27L308.39 666.97L308.72 662.39L309.05 657.53L309.38 652.39L309.72 646.98L310.05 641.31L310.38 635.39L310.72 629.21L311.05 622.78L311.38 616.12L311.71 609.23L312.05 602.11L312.38 594.78L312.71 587.23L313.05 579.49L313.38 571.55L313.71 563.43L314.05 555.13L314.38 546.65L314.71 538.02L315.04 529.24L315.38 520.31L315.71 511.24L316.04 502.05L316.38 492.73L316.71 483.31L317.04 473.79L317.37 464.18L317.71 454.49L318.04 444.72L318.37 434.89L318.71 425.01L319.04 415.08L319.37 405.11L319.7 395.12L320.04 385.11L320.37 375.1L320.7 365.08L321.04 355.08L321.37 345.1L321.7 335.15L322.04 325.24L322.37 315.38L322.7 305.58L323.03 295.84L323.37 286.18L323.7 276.6L324.03 267.12L324.37 257.74L324.7 248.48L325.03 239.33L325.36 230.31L325.7 221.43L326.03 212.69L326.36 204.11L326.7 195.69L327.03 187.44L327.36 179.36L327.69 171.47L328.03 163.77L328.36 156.27L328.69 148.97L329.03 141.89L329.36 135.02L329.69 128.38L330.03 121.98L330.36 115.8L330.69 109.88L331.02 104.2L331.36 98.77L331.69 93.6L332.02 88.7L332.36 84.06L332.69 79.7L333.02 75.61L333.35 71.8L333.69 68.28L334.02 65.04L334.35 62.1L334.69 59.44L335.02 57.08L335.35 55.02L335.69 53.26L336.02 51.79L336.35 50.63L336.68 49.78L337.02 49.22L337.35 48.98L337.68 49.03L338.02 49.39L338.35 50.06L338.68 51.03L339.01 52.31L339.35 53.88L339.68 55.76L340.01 57.93L340.35 60.41L340.68 63.17L341.01 66.23L341.34 69.58L341.68 73.22L342.01 77.14L342.34 81.33L342.68 85.81L343.01 90.55L343.34 95.57L343.68 100.85L344.01 106.38L344.34 112.17L344.67 118.2L345.01 124.48L345.34 131L345.67 137.75L346.01 144.72L346.34 151.91L346.67 159.31L347 166.92L347.34 174.72L347.67 182.72L348 190.9L348.34 199.25L348.67 207.78L349 216.47L349.33 225.31L349.67 234.29L350 243.41L350.33 252.67L350.67 262.04L351 271.52L351.33 281.11L351.67 290.79L352 300.56L352.33 310.4L352.66 320.31L353 330.28L353.33 340.3L353.66 350.36L354 360.46L354.33 370.57L354.66 380.7L354.99 390.83L355.33 400.96L355.66 411.07L355.99 421.16L356.33 431.22L356.66 441.24L356.99 451.2L357.32 461.1L357.66 470.94L357.99 480.69L358.32 490.36L358.66 499.94L358.99 509.41L359.32 518.76L359.66 528L359.99 537.11L360.32 546.07L360.65 554.89L360.99 563.56L361.32 572.06L361.65 580.4L361.99 588.55L362.32 596.53L362.65 604.31L362.98 611.89L363.32 619.26L363.65 626.42L363.98 633.36L364.32 640.08L364.65 646.56L364.98 652.81L365.31 658.81L365.65 664.57L365.98 670.07L366.31 675.31L366.65 680.29L366.98 685L367.31 689.43L367.65 693.59L367.98 697.47L368.31 701.07L368.64 704.38L368.98 707.39L369.31 710.12L369.64 712.55L369.98 714.68L370.31 716.51L370.64 718.04L370.97 719.27L371.31 720.19L371.64 720.81L371.97 721.13L372.31 721.14L372.64 720.84L372.97 720.24L373.3 719.33L373.64 718.12L373.97 716.61L374.3 714.79L374.64 712.68L374.97 710.26L375.3 707.56L375.64 704.56L375.97 701.26L376.3 697.69L376.63 693.82L376.97 689.68L377.3 685.26L377.63 680.56L377.97 675.6L378.3 670.38L378.63 664.89L378.96 659.15L379.3 653.16L379.63 646.93L379.96 640.46L380.3 633.76L380.63 626.83L380.96 619.68L381.3 612.32L381.63 604.75L381.96 596.98L382.29 589.02L382.63 580.87L382.96 572.55L383.29 564.06L383.63 555.4L383.96 546.59L384.29 537.63L384.62 528.53L384.96 519.31L385.29 509.96L385.62 500.49L385.96 490.93L386.29 481.26L386.62 471.51L386.95 461.68L387.29 451.79L387.62 441.83L387.95 431.82L388.29 421.76L388.62 411.68L388.95 401.57L389.29 391.44L389.62 381.31L389.95 371.18L390.28 361.07L390.62 350.98L390.95 340.91L391.28 330.89L391.62 320.92L391.95 311.01L392.28 301.16L392.61 291.39L392.95 281.71L393.28 272.12L393.61 262.63L393.95 253.26L394.28 244L394.61 234.88L394.94 225.89L395.28 217.04L395.61 208.35L395.94 199.82L396.28 191.46L396.61 183.27L396.94 175.27L397.28 167.46L397.61 159.85L397.94 152.44L398.27 145.24L398.61 138.26L398.94 131.51L399.27 124.99L399.61 118.7L399.94 112.66L400.27 106.86L400.6 101.32L400.94 96.03L401.27 91.01L401.6 86.26L401.94 81.78L402.27 77.57L402.6 73.65L402.93 70L403.27 66.65L403.6 63.58L403.93 60.81L404.27 58.33L404.6 56.15L404.93 54.27L405.27 52.69L405.6 51.41L405.93 50.43L406.26 49.76L406.6 49.4L406.93 49.34L407.26 49.59L407.6 50.14L407.93 50.99L408.26 52.15L408.59 53.62L408.93 55.38L409.26 57.45L409.59 59.81L409.93 62.47L410.26 65.42L410.59 68.66L410.92 72.19L411.26 76.01L411.59 80.11L411.92 84.48L412.26 89.13L412.59 94.05L412.92 99.23L413.26 104.67L413.59 110.37L413.92 116.32L414.25 122.51L414.59 128.94L414.92 135.61L415.25 142.5L415.59 149.61L415.92 156.94L416.25 164.47L416.58 172.21L416.92 180.14L417.25 188.25L417.58 196.55L417.92 205.01L418.25 213.65L418.58 222.43L418.92 231.37L419.25 240.44L419.58 249.65L419.91 258.98L420.25 268.42L420.58 277.97L420.91 287.62L421.25 297.36L421.58 307.17L421.91 317.06L422.24 327.01L422.58 337.01L422.91 347.06L423.24 357.14L423.58 367.25L423.91 377.37L424.24 387.5L424.57 397.63L424.91 407.75L425.24 417.84L425.57 427.91L425.91 437.94L426.24 447.92L426.57 457.84L426.91 467.7L427.24 477.48L427.57 487.18L427.9 496.79L428.24 506.29L428.57 515.69L428.9 524.96L429.24 534.11L429.57 543.12L429.9 551.99L430.23 560.71L430.57 569.27L430.9 577.66L431.23 585.88L431.57 593.91L431.9 601.75L432.23 609.4L432.56 616.84L432.9 624.07L433.23 631.09L433.56 637.88L433.9 644.44L434.23 650.77L434.56 656.85L434.9 662.69L435.23 668.28L435.56 673.6L435.89 678.67L436.23 683.47L436.56 688L436.89 692.25L437.23 696.22L437.56 699.91L437.89 703.31L438.22 706.43L438.56 709.25L438.89 711.78L439.22 714.01L439.56 715.94L439.89 717.57L440.22 718.9L440.55 719.93L440.89 720.65L441.22 721.06L441.55 721.17L441.89 720.98L442.22 720.48L442.55 719.67L442.89 718.56L443.22 717.15L443.55 715.43L443.88 713.42L444.22 711.11L444.55 708.5L444.88 705.59L445.22 702.4L445.55 698.91L445.88 695.14L446.21 691.09L446.55 686.76L446.88 682.16L447.21 677.29L447.55 672.15L447.88 666.75L448.21 661.09L448.54 655.19L448.88 649.04L449.21 642.64L449.54 636.02L449.88 629.16L450.21 622.09L450.54 614.8L450.88 607.3L451.21 599.59L451.54 591.7L451.87 583.61L452.21 575.35L452.54 566.91L452.87 558.3L453.21 549.54L453.54 540.63L453.87 531.58L454.2 522.4L454.54 513.09L454.87 503.66L455.2 494.13L455.54 484.5L455.87 474.77L456.2 464.97L456.53 455.09L456.87 445.15L457.2 435.16L457.53 425.12L457.87 415.04L458.2 404.94L458.53 394.82L458.87 384.69L459.2 374.56L459.53 364.44L459.86 354.34L460.2 344.26L460.53 334.23L460.86 324.24L461.2 314.31L461.53 304.44L461.86 294.64L462.19 284.93L462.53 275.31L462.86 265.79L463.19 256.37L463.53 247.08L463.86 237.91L464.19 228.87L464.53 219.98L464.86 211.23L465.19 202.65L465.52 194.23L465.86 185.98L466.19 177.92L466.52 170.04L466.86 162.36L467.19 154.88L467.52 147.62L467.85 140.56L468.19 133.73L468.52 127.13L468.85 120.77L469.19 114.64L469.52 108.76L469.85 103.14L470.18 97.77L470.52 92.66L470.85 87.81L471.18 83.24L471.52 78.94L471.85 74.92L472.18 71.19L472.52 67.73L472.85 64.57L473.18 61.7L473.51 59.12L473.85 56.84L474.18 54.86L474.51 53.18L474.85 51.8L475.18 50.72L475.51 49.95L475.84 49.49L476.18 49.33L476.51 49.47L476.84 49.92L477.18 50.67L477.51 51.73L477.84 53.1L478.17 54.76L478.51 56.72L478.84 58.99L479.17 61.55L479.51 64.4L479.84 67.55L480.17 70.99L480.51 74.71L480.84 78.71L481.17 82.99L481.5 87.55L481.84 92.38L482.17 97.48L482.5 102.83L482.84 108.45L483.17 114.31L483.5 120.42L483.83 126.77L484.17 133.36L484.5 140.18L484.83 147.22L485.17 154.47L485.5 161.94L485.83 169.61L486.16 177.47L486.5 185.53L486.83 193.76L487.16 202.17L487.5 210.75L487.83 219.49L488.16 228.37L488.5 237.4L488.83 246.56L489.16 255.85L489.49 265.26L489.83 274.78L490.16 284.39L490.49 294.1L490.83 303.89L491.16 313.76L491.49 323.69L491.82 333.67L492.16 343.71L492.49 353.78L492.82 363.88L493.16 374L493.49 384.12L493.82 394.25L494.15 404.38L494.49 414.48L494.82 424.56L495.15 434.6L495.49 444.6L495.82 454.54L496.15 464.42L496.49 474.23L496.82 483.96L497.15 493.6L497.48 503.14L497.82 512.57L498.15 521.88L498.48 531.07L498.82 540.13L499.15 549.05L499.48 557.82L499.81 566.43L500.15 574.88L500.48 583.16L500.81 591.25L501.15 599.16L501.48 606.87L501.81 614.38L502.15 621.69L502.48 628.78L502.81 635.64L503.14 642.28L503.48 648.69L503.81 654.85L504.14 660.77L504.48 666.44L504.81 671.86L505.14 677.01L505.47 681.9L505.81 686.52L506.14 690.86L506.47 694.93L506.81 698.71L507.14 702.21L507.47 705.42L507.8 708.34L508.14 710.97L508.47 713.3L508.8 715.33L509.14 717.06L509.47 718.49L509.8 719.62L510.14 720.44L510.47 720.96L510.8 721.17L511.13 721.08L511.47 720.68L511.8 719.97L512.13 718.96L512.47 717.65L512.8 716.04L513.13 714.12L513.46 711.91L513.8 709.4L514.13 706.59L514.46 703.49L514.8 700.11L515.13 696.43L515.46 692.48L515.79 688.24L516.13 683.73L516.46 678.94L516.79 673.89L517.13 668.58L517.46 663.01L517.79 657.18L518.13 651.11L518.46 644.8L518.79 638.25L519.12 631.47L519.46 624.47L519.79 617.25L520.12 609.82L520.46 602.18L520.79 594.35L521.12 586.33L521.45 578.12L521.79 569.74L522.12 561.19L522.45 552.48L522.79 543.62L523.12 534.61L523.45 525.47L523.78 516.2L524.12 506.82L524.45 497.32L524.78 487.72L525.12 478.02L525.45 468.25L525.78 458.39L526.12 448.47L526.45 438.5L526.78 428.47L527.11 418.4L527.45 408.31L527.78 398.19L528.11 388.06L528.45 377.93L528.78 367.81L529.11 357.7L529.44 347.62L529.78 337.57L530.11 327.56L530.44 317.61L530.78 307.72L531.11 297.9L531.44 288.16L531.77 278.5L532.11 268.95L532.44 259.5L532.77 250.16L533.11 240.95L533.44 231.87L533.77 222.92L534.11 214.13L534.44 205.49L534.77 197.01L535.1 188.71L535.44 180.58L535.77 172.64L536.1 164.9L536.44 157.35L536.77 150.01L537.1 142.89L537.43 135.99L537.77 129.31L538.1 122.86L538.43 116.66L538.77 110.7L539.1 104.98L539.43 99.53L539.76 94.33L540.1 89.4L540.43 84.73L540.76 80.34L541.1 76.23L541.43 72.4L541.76 68.85L542.1 65.59L542.43 62.62L542.76 59.95L543.09 57.57L543.43 55.49L543.76 53.71L544.09 52.23L544.43 51.05L544.76 50.18L545.09 49.61L545.42 49.34L545.76 49.39L546.09 49.74L546.42 50.39L546.76 51.35L547.09 52.61L547.42 54.17L547.76 56.04L548.09 58.2L548.42 60.66L548.75 63.42L549.09 66.47L549.42 69.81L549.75 73.44L550.09 77.35L550.42 81.54L550.75 86L551.08 90.74L551.42 95.75L551.75 101.02L552.08 106.55L552.42 112.33L552.75 118.36L553.08 124.63L553.41 131.14L553.75 137.88L554.08 144.85L554.41 152.03L554.75 159.43L555.08 167.03L555.41 174.83L555.75 182.82L556.08 191L556.41 199.35L556.74 207.87L557.08 216.56L557.41 225.39L557.74 234.38L558.08 243.49L558.41 252.74L558.74 262.11L559.07 271.59L559.41 281.18L559.74 290.85L560.07 300.62L560.41 310.46L560.74 320.37L561.07 330.34L561.4 340.36L561.74 350.42L562.07 360.51L562.4 370.62L562.74 380.75L563.07 390.88L563.4 401L563.74 411.12L564.07 421.2L564.4 431.26L564.73 441.27L565.07 451.23L565.4 461.14L565.73 470.97L566.07 480.73L566.4 490.39L566.73 499.97L567.06 509.44L567.4 518.79L567.73 528.03L568.06 537.13L568.4 546.1L568.73 554.92L569.06 563.58L569.39 572.08L569.73 580.42L570.06 588.57L570.39 596.55L570.73 604.32L571.06 611.9L571.39 619.28L571.73 626.44L572.06 633.38L572.39 640.09L572.72 646.58L573.06 652.82L573.39 658.83L573.72 664.58L574.06 670.08L574.39 675.32L574.72 680.3L575.05 685.01L575.39 689.44L575.72 693.6L576.05 697.48L576.39 701.08L576.72 704.38L577.05 707.4L577.38 710.13L577.72 712.55L578.05 714.69L578.38 716.52L578.72 718.05L579.05 719.28L579.38 720.2L579.72 720.82L580.05 721.13L580.38 721.14L580.71 720.84L581.05 720.24L581.38 719.33L581.71 718.12L582.05 716.61L582.38 714.8L582.71 712.68L583.04 710.27L583.38 707.56L583.71 704.56L584.04 701.27L584.38 697.69L584.71 693.83L585.04 689.68L585.38 685.26L585.71 680.57L586.04 675.61L586.37 670.38L586.71 664.89L587.04 659.15L587.37 653.16L587.71 646.93L588.04 640.46L588.37 633.76L588.7 626.83L589.04 619.68L589.37 612.32L589.7 604.75L590.04 596.98L590.37 589.02L590.7 580.88L591.03 572.55L591.37 564.06L591.7 555.4L592.03 546.59L592.37 537.63L592.7 528.53L593.03 519.31L593.37 509.96L593.7 500.5L594.03 490.93L594.36 481.26L594.7 471.51L595.03 461.68L595.36 451.79L595.7 441.83L596.03 431.82L596.36 421.76L596.69 411.68L597.03 401.57L597.36 391.44L597.69 381.31L598.03 371.18L598.36 361.07L598.69 350.98L599.02 340.91L599.36 330.89L599.69 320.92L600.02 311.01L600.36 301.16L600.69 291.39L601.02 281.71L601.36 272.12L601.69 262.64L602.02 253.26L602.35 244.01L602.69 234.88L603.02 225.89L603.35 217.04L603.69 208.35L604.02 199.82L604.35 191.46L604.68 183.27L605.02 175.27L605.35 167.46L605.68 159.85L606.02 152.44L606.35 145.24L606.68 138.26L607.01 131.51L607.35 124.99L607.68 118.7L608.01 112.66L608.35 106.86L608.68 101.32L609.01 96.03L609.35 91.01L609.68 86.26L610.01 81.78L610.34 77.57L610.68 73.65L611.01 70L611.34 66.65L611.68 63.58L612.01 60.81L612.34 58.33L612.67 56.15L613.01 54.27L613.34 52.69L613.67 51.41L614.01 50.43L614.34 49.76L614.67 49.4L615 49.34L615.34 49.59L615.67 50.14L616 50.99L616.34 52.15L616.67 53.62L617 55.38L617.34 57.45L617.67 59.81L618 62.47L618.33 65.42L618.67 68.66L619 72.2L619.33 76.01L619.67 80.11L620 84.48L620.33 89.13L620.66 94.05L621 99.23L621.33 104.67L621.66 110.37L622 116.32L622.33 122.51L622.66 128.94L623 135.61L623.33 142.5L623.66 149.61L623.99 156.94L624.33 164.47L624.66 172.21L624.99 180.14L625.33 188.25L625.66 196.55L625.99 205.01L626.32 213.65L626.66 222.43L626.99 231.37L627.32 240.44L627.66 249.65L627.99 258.98L628.32 268.42L628.65 277.97L628.99 287.62L629.32 297.36L629.65 307.17L629.99 317.06L630.32 327.01L630.65 337.01L630.99 347.06L631.32 357.14L631.65 367.25L631.98 377.37L632.32 387.5L632.65 397.63L632.98 407.75L633.32 417.84L633.65 427.91L633.98 437.94L634.31 447.92L634.65 457.84L634.98 467.7L635.31 477.48L635.65 487.18L635.98 496.79L636.31 506.29L636.64 515.69L636.98 524.96L637.31 534.11L637.64 543.12L637.98 551.99L638.31 560.71L638.64 569.27L638.98 577.66L639.31 585.88L639.64 593.91L639.97 601.75L640.31 609.4L640.64 616.84L640.97 624.07L641.31 631.09L641.64 637.88L641.97 644.44L642.3 650.77L642.64 656.85L642.97 662.69L643.3 668.28L643.64 673.6L643.97 678.67L644.3 683.47L644.63 688L644.97 692.25L645.3 696.22L645.63 699.91L645.97 703.31L646.3 706.43L646.63 709.25L646.97 711.78L647.3 714.01L647.63 715.94L647.96 717.57L648.3 718.9L648.63 719.93L648.96 720.65L649.3 721.06L649.63 721.17L649.96 720.98L650.29 720.48L650.63 719.67L650.96 718.56L651.29 717.15L651.63 715.43L651.96 713.42L652.29 711.11L652.62 708.5L652.96 705.59L653.29 702.4L653.62 698.91L653.96 695.14L654.29 691.09L654.62 686.76L654.96 682.16L655.29 677.29L655.62 672.15L655.95 666.75L656.29 661.09L656.62 655.19L656.95 649.04L657.29 642.64L657.62 636.02L657.95 629.16L658.28 622.09L658.62 614.8L658.95 607.3L659.28 599.59L659.62 591.7L659.95 583.61L660.28 575.35L660.61 566.91L660.95 558.3L661.28 549.54L661.61 540.63L661.95 531.58L662.28 522.4L662.61 513.09L662.95 503.66L663.28 494.13L663.61 484.5L663.94 474.77L664.28 464.97L664.61 455.09L664.94 445.15L665.28 435.16L665.61 425.12L665.94 415.04L666.27 404.94L666.61 394.82L666.94 384.69L667.27 374.56L667.61 364.44L667.94 354.34L668.27 344.26L668.61 334.23L668.94 324.24L669.27 314.31L669.6 304.44L669.94 294.64L670.27 284.93L670.6 275.31L670.94 265.79L671.27 256.37L671.6 247.08L671.93 237.91L672.27 228.87L672.6 219.98L672.93 211.23L673.27 202.65L673.6 194.23L673.93 185.98L674.26 177.92L674.6 170.04L674.93 162.36L675.26 154.88L675.6 147.62L675.93 140.56L676.26 133.73L676.6 127.13L676.93 120.77L677.26 114.64L677.59 108.76L677.93 103.14L678.26 97.77L678.59 92.66L678.93 87.81L679.26 83.24L679.59 78.94L679.92 74.92L680.26 71.19L680.59 67.73L680.92 64.57L681.26 61.7L681.59 59.12L681.92 56.84L682.25 54.86L682.59 53.18L682.92 51.8L683.25 50.72L683.59 49.95L683.92 49.49L684.25 49.33L684.59 49.47L684.92 49.92L685.25 50.67L685.58 51.73L685.92 53.1L686.25 54.76L686.58 56.72L686.92 58.99L687.25 61.55L687.58 64.4L687.91 67.55L688.25 70.99L688.58 74.71L688.91 78.71L689.25 82.99L689.58 87.55L689.91 92.38L690.24 97.48L690.58 102.83L690.91 108.45L691.24 114.31L691.58 120.42L691.91 126.77L692.24 133.36L692.58 140.18L692.91 147.22L693.24 154.47L693.57 161.94L693.91 169.61L694.24 177.47L694.57 185.53L694.91 193.76L695.24 202.17L695.57 210.75L695.9 219.49L696.24 228.37L696.57 237.4L696.9 246.56L697.24 255.85L697.57 265.26L697.9 274.78L698.23 284.39L698.57 294.1L698.9 303.89L699.23 313.76L699.57 323.69L699.9 333.67L700.23 343.71L700.57 353.78L700.9 363.88L701.23 374L701.56 384.12L701.9 394.25L702.23 404.38L702.56 414.48L702.9 424.56L703.23 434.6L703.56 444.6L703.89 454.54L704.23 464.42L704.56 474.23L704.89 483.96L705.23 493.6L705.56 503.14L705.89 512.57L706.22 521.88L706.56 531.07L706.89 540.13L707.22 549.05L707.56 557.82L707.89 566.43L708.22 574.88L708.56 583.16L708.89 591.25L709.22 599.16L709.55 606.87L709.89 614.38L710.22 621.69L710.55 628.78L710.89 635.64L711.22 642.28L711.55 648.69L711.88 654.85L712.22 660.77L712.55 666.44L712.88 671.86L713.22 677.01L713.55 681.9L713.88 686.52L714.22 690.86L714.55 694.93L714.88 698.71L715.21 702.21L715.55 705.42L715.88 708.34L716.21 710.97L716.55 713.3L716.88 715.33L717.21 717.06L717.54 718.49L717.88 719.62L718.21 720.44L718.54 720.96L718.88 721.17L719.21 721.08L719.54 720.68L719.87 719.97L720.21 718.96L720.54 717.65L720.87 716.04L721.21 714.12L721.54 711.91L721.87 709.4L722.21 706.59L722.54 703.49L722.87 700.11L723.2 696.43L723.54 692.48L723.87 688.24L724.2 683.73L724.54 678.94L724.87 673.89L725.2 668.58L725.53 663.01L725.87 657.18L726.2 651.11L726.53 644.8L726.87 638.25L727.2 631.47L727.53 624.47L727.86 617.25L728.2 609.82L728.53 602.18L728.86 594.35L729.2 586.33L729.53 578.12L729.86 569.74L730.2 561.19L730.53 552.48L730.86 543.62L731.19 534.61L731.53 525.47L731.86 516.2L732.19 506.82L732.53 497.32L732.86 487.72L733.19 478.02L733.52 468.25L733.86 458.39L734.19 448.47L734.52 438.5L734.86 428.47L735.19 418.4L735.52 408.31L735.85 398.19L736.19 388.06L736.52 381.72L736.85 377.57L737.19 374.13L737.52 371.25L737.85 368.84L738.19 366.78L738.52 365.03L738.85 363.51L739.18 362.2L739.52 361.04L739.85 360.02L740.18 359.11L740.52 358.3L740.85 357.57L741.18 356.91L741.51 356.31L741.85 355.76L742.18 355.27L742.51 354.82L742.85 354.41L743.18 354.04L743.51 353.71L743.84 353.41L744.18 353.15L744.51 352.92L744.84 352.73L745.18 352.57L745.51 352.44L745.84 352.34L746.18 352.27L746.51 352.24L746.84 352.23L747.17 352.26L747.51 352.32L747.84 352.41L748.17 352.52L748.51 352.67L748.84 352.85L749.17 353.06L749.5 353.29L749.84 353.56L750.17 353.85L750.5 354.18L750.84 354.53L751.17 354.91L751.5 355.31L751.84 355.75L752.17 356.21L752.5 356.7L752.83 357.21L753.17 357.75L753.5 358.32L753.83 358.91L754.17 359.52L754.5 360.15L754.83 360.81L755.16 361.49L755.5 362.2L755.83 362.92L756.16 363.67L756.5 364.43L756.83 365.21L757.16 366.01L757.49 366.83L757.83 367.67L758.16 368.52L758.49 369.38L758.83 370.27L759.16 371.16L759.49 372.07L759.83 372.99L760.16 373.92L760.49 374.86L760.82 375.81L761.16 376.77L761.49 377.73L761.82 378.71L762.16 379.69L762.49 380.67L762.82 381.66L763.15 382.65L763.49 383.65L763.82 384.64L764.15 385.64L764.49 386.63L764.82 387.63L765.15 388.62L765.48 389.61L765.82 390.6L766.15 391.58L766.48 392.55L766.82 393.52L767.15 394.48L767.48 395.43L767.82 396.37L768.15 397.31L768.48 398.23L768.81 399.14L769.15 400.04L769.48 400.92L769.81 401.79L770.15 402.64L770.48 403.48L770.81 404.31L771.14 405.11L771.48 405.9L771.81 406.67L772.14 407.41L772.48 408.14L772.81 408.85L773.14 409.54L773.47 410.2L773.81 410.84L774.14 411.46L774.47 412.06L774.81 412.62L775.14 413.17L775.47 413.69L775.81 414.18L776.14 414.65L776.47 415.09L776.8 415.51L777.14 415.89L777.47 416.25L777.8 416.58L778.14 416.88L778.47 417.15L778.8 417.4L779.13 417.61L779.47 417.8L779.8 417.95L780.13 418.08L780.47 418.17L780.8 418.24L781.13 418.28L781.46 418.28L781.8 418.26L782.13 418.2L782.46 418.12L782.8 418L783.13 417.86L783.46 417.69L783.8 417.48L784.13 417.25L784.46 416.99L784.79 416.7L785.13 416.38L785.46 416.03L785.79 415.66L786.13 415.26L786.46 414.83L786.79 414.37L787.12 413.88L787.46 413.38L787.79 412.84L788.12 412.28L788.46 411.69L788.79 411.09L789.12 410.45L789.45 409.8L789.79 409.12L790.12 408.42L790.45 407.7L790.79 406.96L791.12 406.2L791.45 405.42L791.79 404.62L792.12 403.81L792.45 402.97L792.78 402.12L793.12 401.26L793.45 400.38L793.78 399.49L794.12 398.58L794.45 397.67L794.78 396.74L795.11 395.8L795.45 394.85L795.78 393.89L796.11 392.93L796.45 391.96L796.78 390.98L797.11 389.99L797.45 389.01L797.78 388.01L798.11 387.02L798.44 386.02L798.78 385.03L799.11 384.03L799.44 383.04L799.78 382.04L800.11 381.06L800.44 380.07L800.77 379.09L801.11 378.11L801.44 377.14L801.77 376.18L802.11 375.23L802.44 374.28L802.77 373.35L803.1 372.42L803.44 371.51L803.77 370.61L804.1 369.73L804.44 368.85L804.77 368L805.1 367.15L805.44 366.33L805.77 365.52L806.1 364.73L806.43 363.96L806.77 363.21L807.1 362.48L807.43 361.77L807.77 361.08L808.1 360.41L808.43 359.76L808.76 359.14L809.1 358.54L809.43 357.97L809.76 357.42L810.1 356.9L810.43 356.4L810.76 355.93L811.09 355.48L811.43 355.06L811.76 354.67L812.09 354.31L812.43 353.97L812.76 353.67L813.09 353.39L813.43 353.14L813.76 352.92L814.09 352.73L814.42 352.57L814.76 352.44L815.09 352.34L815.42 352.27L815.76 352.23L816.09 352.22L816.42 352.24L816.75 352.29L817.09 352.37L817.42 352.47L817.75 352.61L818.09 352.78L818.42 352.98L818.75 353.21L819.08 353.46L819.42 353.75L819.75 354.06L820.08 354.41L820.42 354.78L820.75 355.18L821.08 355.6L821.42 356.05L821.75 356.53L822.08 357.04L822.41 357.57L822.75 358.13L823.08 358.71L823.41 359.31L823.75 359.94L824.08 360.59L824.41 361.27L824.74 361.96L825.08 362.68L825.41 363.42L825.74 364.17L826.08 364.95L826.41 365.74L826.74 366.56L827.07 367.39L827.41 368.23L827.74 369.09L828.07 369.97L828.41 370.86L828.74 371.76L829.07 372.68L829.41 373.61L829.74 374.54L830.07 375.49L830.4 376.45L830.74 377.41L831.07 378.38L831.4 379.36L831.74 380.34L832.07 381.33L832.4 382.32L832.73 383.31L833.07 384.31L833.4 385.31L833.73 386.3L834.07 387.3L834.4 388.29L834.73 389.28L835.07 390.27L835.4 391.25L835.73 392.23L836.06 393.2L836.4 394.16L836.73 395.11L837.06 396.06L837.4 397L837.73 397.92L838.06 398.84L838.39 399.74L838.73 400.63L839.06 401.5L839.39 402.36L839.73 403.21L840.06 404.03L840.39 404.84L840.72 405.64L841.06 406.41L841.39 407.17L841.72 407.9L842.06 408.62L842.39 409.31L842.72 409.98L843.06 410.63L843.39 411.26L843.72 411.86L844.05 412.44L844.39 412.99L844.72 413.52L845.05 414.02L845.39 414.5L845.72 414.95L846.05 415.37L846.38 415.77L846.72 416.13L847.05 416.47L847.38 416.78L847.72 417.07L848.05 417.32L848.38 417.54L848.71 417.74L849.05 417.9L849.38 418.04L849.71 418.14L850.05 418.22L850.38 418.27L850.71 418.28L851.05 418.27L851.38 418.22L851.71 418.15L852.04 418.05L852.38 417.91L852.71 417.75L853.04 417.56L853.38 417.33L853.71 417.08L854.04 416.8L854.37 416.49L854.71 416.15L855.04 415.79L855.37 415.39L855.71 414.97L856.04 414.52L856.37 414.05L856.7 413.55L857.04 413.02L857.37 412.47L857.7 411.89L858.04 411.29L858.37 410.67L858.7 410.02L859.04 409.35L859.37 408.66L859.7 407.94L860.03 407.21L860.37 406.45L860.7 405.68L861.03 404.89L861.37 404.08L861.7 403.25L862.03 402.41L862.36 401.55L862.7 400.68L863.03 399.79L863.36 398.89L863.7 397.97L864.03 397.05L864.36 396.11L864.69 395.17L865.03 394.21L865.36 393.25L865.69 392.28L866.03 391.3L866.36 390.32L866.69 389.34L867.03 388.34L867.36 387.35L867.69 386.36L868.02 385.36L868.36 384.36L868.69 383.37L869.02 382.38L869.36 381.38L869.69 380.4L870.02 379.41L870.35 378.44L870.69 377.46L871.02 376.5L871.35 375.54L871.69 374.6L872.02 373.66L872.35 372.73L872.68 371.81L873.02 370.91L873.35 370.02L873.68 369.14L874.02 368.28L874.35 367.43L874.68 366.6L875.02 365.79L875.35 364.99L875.68 364.22L876.01 363.46L876.35 362.72L876.68 362L877.01 361.3L877.35 360.63L877.68 359.98L878.01 359.35L878.34 358.74L878.68 358.16L879.01 357.6L879.34 357.07L879.68 356.56L880.01 356.08L880.34 355.63L880.68 355.2L881.01 354.8L881.34 354.43L881.67 354.08L882.01 353.77L882.34 353.48L882.67 353.22L883.01 352.99L883.34 352.79L883.67 352.62L884 352.48L884.34 352.37L884.67 352.29L885 352.24L885.34 352.22L885.67 352.23L886 352.27L886.33 352.34L886.67 352.43L887 352.56L887.33 352.72L887.67 352.91L888 353.13L888.33 353.38L888.67 353.65L889 353.96L889.33 354.29L889.66 354.65L890 355.04L890.33 355.46L890.66 355.9L891 356.37L891.33 356.87L891.66 357.39L891.99 357.94L892.33 358.51L892.66 359.11L892.99 359.73L893.33 360.37L893.66 361.04L893.99 361.73L894.32 362.44L894.66 363.17L894.99 363.92L895.32 364.69L895.66 365.48L895.99 366.28L896.32 367.11L896.66 367.95L896.99 368.81L897.32 369.68L897.65 370.56L897.99 371.46L898.32 372.37L898.65 373.3L898.99 374.23L899.32 375.17L899.65 376.13L899.98 377.09L900.32 378.06L900.65 379.03L900.98 380.01L901.32 381L901.65 381.99L901.98 382.98L902.31 383.98L902.65 384.97L902.98 385.97L903.31 386.96L903.65 387.96L903.98 388.95L904.31 389.94L904.65 390.92L904.98 391.9L905.31 392.87L905.64 393.84L905.98 394.8L906.31 395.75L906.64 396.69L906.98 397.62L907.31 398.53L907.64 399.44L907.97 400.33L908.31 401.21L908.64 402.08L908.97 402.93L909.31 403.76L909.64 404.58L909.97 405.38L910.3 406.16L910.64 406.92L910.97 407.66L911.3 408.38L911.64 409.08L911.97 409.76L912.3 410.42L912.64 411.05L912.97 411.66L913.3 412.25L913.63 412.81L913.97 413.35L914.3 413.86" stroke="#ff0000" stroke-dasharray="15.45 15.45"/>
<path d="M82 356.64L82.33 357.15L82.67 357.69L83 358.25L83.33 358.84L83.66 359.45L84 360.08L84.33 360.74L84.66 361.42L85 362.12L85.33 362.84L85.66 363.58L86 364.34L86.33 365.12L86.66 365.92L86.99 366.74L87.33 367.57L87.66 368.42L87.99 369.29L88.33 370.17L88.66 371.06L88.99 371.97L89.32 372.88L89.66 373.81L89.99 374.75L90.32 375.7L90.66 376.66L90.99 377.63L91.32 378.6L91.65 379.58L91.99 380.56L92.32 381.55L92.65 382.54L92.99 383.54L93.32 384.53L93.65 385.53L93.99 386.52L94.32 387.52L94.65 388.51L94.98 389.5L95.32 390.49L95.65 391.47L95.98 392.44L96.32 393.41L96.65 394.37L96.98 395.33L97.31 396.27L97.65 397.2L97.98 398.13L98.31 399.04L98.65 399.94L98.98 400.82L99.31 401.69L99.64 402.55L99.98 403.39L100.31 404.22L100.64 405.02L100.98 405.81L101.31 406.58L101.64 407.33L101.98 408.06L102.31 408.77L102.64 409.46L102.97 410.13L103.31 410.77L103.64 411.39L103.97 411.99L104.31 412.56L104.64 413.11L104.97 413.63L105.3 414.13L105.64 414.6L105.97 415.04L106.3 415.46L106.64 415.85L106.97 416.21L107.3 416.54L107.63 416.85L107.97 417.12L108.3 417.37L108.63 417.59L108.97 417.78L109.3 417.94L109.63 418.07L109.97 418.16L110.3 418.23L110.63 418.27L110.96 418.28L111.3 418.26L111.63 418.21L111.96 418.13L112.3 418.02L112.63 417.88L112.96 417.71L113.29 417.51L113.63 417.28L113.96 417.02L114.29 416.73L114.63 416.42L114.96 416.07L115.29 415.7L115.62 415.3L115.96 414.87L116.29 414.42L116.62 413.94L116.96 413.43L117.29 412.9L117.62 412.34L117.96 411.76L118.29 411.15L118.62 410.52L118.95 409.87L119.29 409.2L119.62 408.5L119.95 407.78L120.29 407.04L120.62 406.28L120.95 405.51L121.28 404.71L121.62 403.9L121.95 403.07L122.28 402.22L122.62 401.36L122.95 400.48L123.28 399.59L123.62 398.69L123.95 397.77L124.28 396.84L124.61 395.9L124.95 394.96L125.28 394L125.61 393.04L125.95 392.06L126.28 391.09L126.61 390.1L126.94 389.12L127.28 388.12L127.61 387.13L127.94 386.14L128.28 385.14L128.61 384.14L128.94 383.15L129.27 382.16L129.61 381.16L129.94 380.18L130.27 379.2L130.61 378.22L130.94 377.25L131.27 376.29L131.61 375.33L131.94 374.39L132.27 373.45L132.6 372.53L132.94 371.61L133.27 370.71L133.6 369.82L133.94 368.95L134.27 368.09L134.6 367.25L134.93 366.42L135.27 365.61L135.6 364.82L135.93 364.05L136.27 363.29L136.6 362.56L136.93 361.84L137.26 361.15L137.6 360.48L137.93 359.83L138.26 359.21L138.6 358.61L138.93 358.03L139.26 357.48L139.6 356.95L139.93 356.45L140.26 355.98L140.59 355.53L140.93 355.11L141.26 354.71L141.59 354.35L141.93 354.01L142.26 353.7L142.59 353.42L142.92 353.17L143.26 352.94L143.59 352.75L143.92 352.59L144.26 352.45L144.59 352.35L144.92 352.28L145.25 352.23L145.59 352.22L145.92 352.23L146.25 352.28L146.59 352.36L146.92 352.46L147.25 352.6L147.59 352.76L147.92 352.96L148.25 353.18L148.58 353.43L148.92 353.72L149.25 354.03L149.58 354.37L149.92 354.73L150.25 355.13L150.58 355.55L150.91 356L151.25 356.48L151.58 356.98L151.91 357.51L152.25 358.06L152.58 358.64L152.91 359.24L153.24 359.87L153.58 360.52L153.91 361.19L154.24 361.88L154.58 362.6L154.91 363.33L155.24 364.09L155.58 364.86L155.91 365.66L156.24 366.47L156.57 367.29L156.91 368.14L157.24 369L157.57 369.87L157.91 370.76L158.24 371.66L158.57 372.58L158.9 373.5L159.24 374.44L159.57 375.39L159.9 376.34L160.24 377.3L160.57 378.27L160.9 379.25L161.23 380.23L161.57 381.22L161.9 382.21L162.23 383.2L162.57 384.2L162.9 385.19L163.23 386.19L163.57 387.19L163.9 388.18L164.23 389.17L164.56 390.16L164.9 391.14L165.23 392.12L165.56 393.09L165.9 394.05L166.23 395.01L166.56 395.96L166.89 396.89L167.23 397.82L167.56 398.74L167.89 399.64L168.23 400.53L168.56 401.41L168.89 402.27L169.23 403.11L169.56 403.94L169.89 404.76L170.22 405.55L170.56 406.33L170.89 407.08L171.22 407.82L171.56 408.54L171.89 409.23L172.22 409.91L172.55 410.56L172.89 411.19L173.22 411.79L173.55 412.37L173.89 412.93L174.22 413.46L174.55 413.97L174.88 414.45L175.22 414.9L175.55 415.32L175.88 415.72L176.22 416.09L176.55 416.44L176.88 416.75L177.22 417.04L177.55 417.29L177.88 417.52L178.21 417.72L178.55 417.89L178.88 418.03L179.21 418.13L179.55 418.21L179.88 418.26L180.21 418.28L180.54 418.27L180.88 418.23L181.21 418.16L181.54 418.06L181.88 417.93L182.21 417.77L182.54 417.58L182.87 417.36L183.21 417.11L183.54 416.83L183.87 416.53L184.21 416.19L184.54 415.83L184.87 415.44L185.21 415.02L185.54 414.57L185.87 414.1L186.2 413.6L186.54 413.08L186.87 412.53L187.2 411.96L187.54 411.36L187.87 410.74L188.2 410.09L188.53 409.42L188.87 408.73L189.2 408.02L189.53 407.29L189.87 406.54L190.2 405.77L190.53 404.98L190.86 404.17L191.2 403.35L191.53 402.5L191.86 401.65L192.2 400.77L192.53 399.89L192.86 398.99L193.2 398.08L193.53 397.15L193.86 396.22L194.19 395.27L194.53 394.32L194.86 393.36L195.19 392.39L195.53 391.41L195.86 390.43L196.19 389.44L196.52 388.46L196.86 387.46L197.19 386.47L197.52 385.47L197.86 384.48L198.19 383.48L198.52 382.49L198.85 381.49L199.19 380.51L199.52 379.52L199.85 378.54L200.19 377.57L200.52 376.61L200.85 375.65L201.19 374.7L201.52 373.76L201.85 372.83L202.18 371.92L202.52 371.01L202.85 370.12L203.18 369.24L203.52 368.38L203.85 367.53L204.18 366.69L204.51 365.88L204.85 365.08L205.18 364.3L205.51 363.54L205.85 362.8L206.18 362.08L206.51 361.38L206.84 360.7L207.18 360.05L207.51 359.41L207.84 358.81L208.18 358.22L208.51 357.66L208.84 357.12L209.18 356.62L209.51 356.13L209.84 355.67L210.17 355.24L210.51 354.84L210.84 354.47L211.17 354.12L211.51 353.8L211.84 353.51L212.17 353.25L212.5 353.02L212.84 352.81L213.17 352.64L213.5 352.5L213.84 352.38L214.17 352.3L214.5 352.24L214.84 352.22L215.17 352.22L215.5 352.26L215.83 352.33L216.17 352.42L216.5 352.55L216.83 352.7L217.17 352.89L217.5 353.1L217.83 353.35L218.16 353.62L218.5 353.92L218.83 354.25L219.16 354.61L219.5 354.99L219.83 355.41L220.16 355.85L220.49 356.32L220.83 356.81L221.16 357.33L221.49 357.88L221.83 358.44L222.16 359.04L222.49 359.66L222.83 360.3L223.16 360.96L223.49 361.65L223.82 362.36L224.16 363.09L224.49 363.83L224.82 364.6L225.16 365.39L225.49 366.19L225.82 367.02L226.15 367.86L226.49 368.71L226.82 369.58L227.15 370.46L227.49 371.36L227.82 372.27L228.15 373.19L228.48 374.13L228.82 375.07L229.15 376.02L229.48 376.98L229.82 377.95L230.15 378.92L230.48 379.9L230.82 380.89L231.15 381.88L231.48 382.87L231.81 383.87L232.15 384.86L232.48 385.86L232.81 386.85L233.15 387.85L233.48 388.84L233.81 389.83L234.14 390.81L234.48 391.79L234.81 392.77L235.14 393.73L235.48 394.69L235.81 395.64L236.14 396.58L236.47 397.51L236.81 398.43L237.14 399.34L237.47 400.23L237.81 401.12L238.14 401.98L238.47 402.83L238.81 403.67L239.14 404.49L239.47 405.29L239.8 406.07L240.14 406.83L240.47 407.58L240.8 408.3L241.14 409.01L241.47 409.69L241.8 410.35L242.13 410.98L242.47 411.59L242.8 412.18L243.13 412.75L243.47 413.29L243.8 413.8L244.13 414.29L244.46 414.75L244.8 415.19L245.13 415.59L245.46 415.97L245.8 416.33L246.13 416.65L246.46 416.94L246.8 417.21L247.13 417.45L247.46 417.66L247.79 417.83L248.13 417.98L248.46 418.1L248.79 418.19L249.13 418.25L249.46 418.28L249.79 418.28L250.12 418.25L250.46 418.19L250.79 418.1L251.12 417.98L251.46 417.82L251.79 417.64L252.12 417.43L252.46 417.2L252.79 416.93L253.12 416.63L253.45 416.31L253.79 415.95L254.12 415.57L254.45 415.16L254.79 414.73L255.12 414.26L255.45 413.77L255.78 413.26L256.12 412.72L256.45 412.15L256.78 411.56L257.12 410.95L257.45 410.31L257.78 409.65L258.11 408.97L258.45 408.26L258.78 407.54L259.11 406.79L259.45 406.03L259.78 405.24L260.11 404.44L260.45 403.62L260.78 402.79L261.11 401.93L261.44 401.07L261.78 400.18L262.11 399.29L262.44 398.38L262.78 397.46L263.11 396.53L263.44 395.59L263.77 394.64L264.11 393.68L264.44 392.71L264.77 391.74L265.11 390.76L265.44 389.77L265.77 388.79L266.1 387.79L266.44 386.8L266.77 385.8L267.1 384.81L267.44 383.81L267.77 382.82L268.1 381.82L268.44 380.84L268.77 379.85L269.1 378.87L269.43 377.9L269.77 376.93L270.1 375.97L270.43 375.02L270.77 374.07L271.1 373.14L271.43 372.22L271.76 371.31L272.1 370.41L272.43 369.53L272.76 368.66L273.1 367.81L273.43 366.97L273.76 366.15L274.09 365.34L274.43 364.56L274.76 363.79L275.09 363.04L275.43 362.32L275.76 361.61L276.09 360.93L276.43 360.26L276.76 359.62L277.09 359.01L277.42 358.41L277.76 357.84L278.09 357.3L278.42 356.78L278.76 356.29L279.09 355.82L279.42 355.38L279.75 354.97L280.09 354.59L280.42 354.23L280.75 353.9L281.09 353.6L281.42 353.33L281.75 353.09L282.08 352.88L282.42 352.69L282.75 352.54L283.08 352.42L283.42 352.32L283.75 352.26L284.08 352.22L284.42 352.22L284.75 352.25L285.08 352.3L285.41 352.39L285.75 352.5L286.08 352.65L286.41 352.82L286.75 353.03L287.08 353.26L287.41 353.53L287.74 353.82L288.08 354.14L288.41 354.49L288.74 354.86L289.08 355.27L289.41 355.7L289.74 356.16L290.07 356.64L290.41 343.76L290.74 331.65L291.07 320.29L291.41 309.68L291.74 299.79L292.07 290.6L292.41 282.1L292.74 274.27L293.07 267.11L293.4 260.58L293.74 254.68L294.07 249.4L294.4 244.71L294.74 240.61L295.07 237.07L295.4 234.09L295.73 231.66L296.07 229.75L296.4 228.35L296.73 227.46L297.07 227.06L297.4 227.13L297.73 227.66L298.07 228.64L298.4 230.05L298.73 231.89L299.06 234.14L299.4 236.79L299.73 239.83L300.06 243.23L300.4 247L300.73 251.11L301.06 255.56L301.39 260.33L301.73 265.41L302.06 270.79L302.39 276.46L302.73 282.4L303.06 288.6L303.39 295.05L303.72 301.73L304.06 308.64L304.39 315.77L304.72 323.09L305.06 330.6L305.39 338.29L305.72 346.14L306.06 354.15L306.39 362.29L306.72 370.57L307.05 378.96L307.39 387.46L307.72 396.05L308.05 404.73L308.39 413.47L308.72 422.27L309.05 431.12L309.38 440.01L309.72 448.93L310.05 457.86L310.38 466.79L310.72 475.71L311.05 484.62L311.38 493.5L311.71 502.33L312.05 511.12L312.38 519.85L312.71 528.51L313.05 537.09L313.38 545.58L313.71 553.97L314.05 562.25L314.38 570.42L314.71 578.46L315.04 586.36L315.38 594.11L315.71 601.72L316.04 609.16L316.38 616.43L316.71 623.52L317.04 630.43L317.37 637.15L317.71 643.66L318.04 649.97L318.37 656.06L318.71 661.94L319.04 667.58L319.37 673L319.7 678.17L320.04 683.1L320.37 687.78L320.7 692.2L321.04 696.37L321.37 700.27L321.7 703.9L322.04 707.26L322.37 710.34L322.7 713.14L323.03 715.66L323.37 717.89L323.7 719.84L324.03 721.49L324.37 722.86L324.7 723.92L325.03 724.69L325.36 725.17L325.7 725.34L326.03 725.22L326.36 724.8L326.7 724.07L327.03 723.05L327.36 721.74L327.69 720.12L328.03 718.21L328.36 716L328.69 713.5L329.03 710.71L329.36 707.63L329.69 704.26L330.03 700.61L330.36 696.68L330.69 692.48L331.02 688L331.36 683.24L331.69 678.23L332.02 672.95L332.36 667.42L332.69 661.63L333.02 655.6L333.35 649.32L333.69 642.81L334.02 636.07L334.35 629.1L334.69 621.92L335.02 614.53L335.35 606.93L335.69 599.13L336.02 591.14L336.35 582.97L336.68 574.62L337.02 566.1L337.35 557.41L337.68 548.58L338.02 539.6L338.35 530.48L338.68 521.23L339.01 511.86L339.35 502.37L339.68 492.78L340.01 483.1L340.35 473.33L340.68 463.48L341.01 453.56L341.34 443.58L341.68 433.55L342.01 423.48L342.34 413.37L342.68 403.24L343.01 393.09L343.34 382.94L343.68 372.8L344.01 362.66L344.34 352.55L344.67 342.46L345.01 332.42L345.34 322.43L345.67 312.49L346.01 302.62L346.34 292.83L346.67 283.12L347 273.51L347.34 264L347.67 254.6L348 245.32L348.34 236.16L348.67 227.15L349 218.28L349.33 209.56L349.67 201L350 192.61L350.33 184.39L350.67 176.36L351 168.52L351.33 160.88L351.67 153.44L352 146.21L352.33 139.2L352.66 132.41L353 125.86L353.33 119.54L353.66 113.46L354 107.63L354.33 102.06L354.66 96.74L354.99 91.68L355.33 86.89L355.66 82.38L355.99 78.14L356.33 74.17L356.66 70.5L356.99 67.1L357.32 64L357.66 61.19L357.99 58.68L358.32 56.46L358.66 54.54L358.99 52.92L359.32 51.61L359.66 50.6L359.99 49.89L360.32 49.49L360.65 49.39L360.99 49.6L361.32 50.12L361.65 50.94L361.99 52.06L362.32 53.49L362.65 55.22L362.98 57.25L363.32 59.58L363.65 62.2L363.98 65.12L364.32 68.33L364.65 71.83L364.98 75.61L365.31 79.68L365.65 84.02L365.98 88.64L366.31 93.52L366.65 98.67L366.98 104.09L367.31 109.76L367.65 115.67L367.98 121.84L368.31 128.24L368.64 134.88L368.98 141.75L369.31 148.83L369.64 156.14L369.98 163.65L370.31 171.36L370.64 179.27L370.97 187.36L371.31 195.64L371.64 204.08L371.97 212.69L372.31 221.46L372.64 230.38L372.97 239.44L373.3 248.63L373.64 257.95L373.97 267.38L374.3 276.92L374.64 286.55L374.97 296.28L375.3 306.09L375.64 315.97L375.97 325.91L376.3 335.91L376.63 345.95L376.97 356.03L377.3 366.13L377.63 376.25L377.97 386.38L378.3 396.51L378.63 406.63L378.96 416.73L379.3 426.8L379.63 436.83L379.96 446.82L380.3 456.75L380.63 466.61L380.96 476.41L381.3 486.11L381.63 495.73L381.96 505.25L382.29 514.65L382.63 523.94L382.96 533.1L383.29 542.13L383.63 551.02L383.96 559.75L384.29 568.33L384.62 576.74L384.96 584.97L385.29 593.03L385.62 600.89L385.96 608.56L386.29 616.03L386.62 623.28L386.95 630.32L387.29 637.14L387.62 643.73L387.95 650.08L388.29 656.19L388.62 662.06L388.95 667.67L389.29 673.03L389.62 678.12L389.95 682.95L390.28 687.51L390.62 691.79L390.95 695.79L391.28 699.52L391.62 702.95L391.95 706.1L392.28 708.95L392.61 711.51L392.95 713.78L393.28 715.74L393.61 717.41L393.95 718.77L394.28 719.83L394.61 720.58L394.94 721.03L395.28 721.18L395.61 721.01L395.94 720.55L396.28 719.78L396.61 718.7L396.94 717.32L397.28 715.64L397.61 713.66L397.94 711.38L398.27 708.8L398.61 705.93L398.94 702.77L399.27 699.32L399.61 695.58L399.94 691.56L400.27 687.26L400.6 682.69L400.94 677.84L401.27 672.73L401.6 667.36L401.94 661.74L402.27 655.86L402.6 649.73L402.93 643.37L403.27 636.77L403.6 629.94L403.93 622.88L404.27 615.62L404.6 608.14L404.93 600.46L405.27 592.58L405.6 584.52L405.93 576.27L406.26 567.85L406.6 559.27L406.93 550.52L407.26 541.63L407.6 532.59L407.93 523.42L408.26 514.13L408.59 504.71L408.93 495.19L409.26 485.57L409.59 475.86L409.93 466.06L410.26 456.19L410.59 446.26L410.92 436.27L411.26 426.24L411.59 416.16L411.92 406.06L412.26 395.94L412.59 385.81L412.92 375.68L413.26 365.56L413.59 355.46L413.92 345.38L414.25 335.34L414.59 325.35L414.92 315.41L415.25 305.53L415.59 295.73L415.92 286L416.25 276.37L416.58 266.84L416.92 257.41L417.25 248.1L417.58 238.92L417.92 229.87L418.25 220.96L418.58 212.2L418.92 203.59L419.25 195.15L419.58 186.89L419.91 178.8L420.25 170.91L420.58 163.2L420.91 155.7L421.25 148.41L421.58 141.34L421.91 134.48L422.24 127.86L422.58 121.46L422.91 115.31L423.24 109.41L423.58 103.75L423.91 98.35L424.24 93.21L424.57 88.34L424.91 83.74L425.24 79.41L425.57 75.36L425.91 71.59L426.24 68.1L426.57 64.91L426.91 62L427.24 59.39L427.57 57.08L427.9 55.07L428.24 53.35L428.57 51.94L428.9 50.83L429.24 50.02L429.57 49.52L429.9 49.33L430.23 49.44L430.57 49.85L430.9 50.57L431.23 51.6L431.57 52.93L431.9 54.56L432.23 56.49L432.56 58.72L432.9 61.25L433.23 64.07L433.56 67.19L433.9 70.59L434.23 74.28L434.56 78.25L434.9 82.5L435.23 87.03L435.56 91.83L435.89 96.9L436.23 102.22L436.56 107.81L436.89 113.65L437.23 119.73L437.56 126.06L437.89 132.62L438.22 139.41L438.56 146.43L438.89 153.66L439.22 161.1L439.56 168.75L439.89 176.59L440.22 184.62L440.55 192.84L440.89 201.23L441.22 209.79L441.55 218.51L441.89 227.38L442.22 236.39L442.55 245.54L442.89 254.81L443.22 264.21L443.55 273.71L443.88 283.32L444.22 293.02L444.55 302.8L444.88 312.66L445.22 322.58L445.55 332.56L445.88 342.59L446.21 352.66L446.55 362.75L446.88 372.87L447.21 383L447.55 393.13L447.88 403.25L448.21 413.36L448.54 423.44L448.88 433.49L449.21 443.49L449.54 453.44L449.88 463.33L450.21 473.14L450.54 482.88L450.88 492.53L451.21 502.08L451.54 511.52L451.87 520.85L452.21 530.06L452.54 539.13L452.87 548.07L453.21 556.85L453.54 565.49L453.87 573.95L454.2 582.25L454.54 590.36L454.87 598.29L455.2 606.03L455.54 613.56L455.87 620.89L456.2 628L456.53 634.89L456.87 641.56L457.2 647.99L457.53 654.18L457.87 660.13L458.2 665.83L458.53 671.27L458.87 676.45L459.2 681.37L459.53 686.02L459.86 690.39L460.2 694.49L460.53 698.3L460.86 701.84L461.2 705.08L461.53 708.03L461.86 710.69L462.19 713.05L462.53 715.12L462.86 716.88L463.19 718.35L463.53 719.51L463.86 720.36L464.19 720.91L464.53 721.16L464.86 721.1L465.19 720.74L465.52 720.07L465.86 719.09L466.19 717.81L466.52 716.23L466.86 714.35L467.19 712.17L467.52 709.69L467.85 706.92L468.19 703.85L468.52 700.5L468.85 696.85L469.19 692.93L469.52 688.72L469.85 684.24L470.18 679.49L470.52 674.47L470.85 669.18L471.18 663.64L471.52 657.84L471.85 651.8L472.18 645.51L472.52 638.99L472.85 632.24L473.18 625.26L473.51 618.06L473.85 610.65L474.18 603.04L474.51 595.23L474.85 587.23L475.18 579.04L475.51 570.68L475.84 562.15L476.18 553.46L476.51 544.61L476.84 535.62L477.18 526.49L477.51 517.24L477.84 507.86L478.17 498.38L478.51 488.79L478.84 479.11L479.17 469.34L479.51 459.49L479.84 449.58L480.17 439.61L480.51 429.59L480.84 419.52L481.17 409.43L481.5 399.32L481.84 389.19L482.17 379.06L482.5 368.93L482.84 358.82L483.17 348.74L483.5 338.68L483.83 328.67L484.17 318.71L484.5 308.82L484.83 298.99L485.17 289.24L485.5 279.57L485.83 270L486.16 260.54L486.5 251.19L486.83 241.97L487.16 232.87L487.5 223.91L487.83 215.1L488.16 206.44L488.5 197.95L488.83 189.62L489.16 181.48L489.49 173.52L489.83 165.75L490.16 158.18L490.49 150.82L490.83 143.67L491.16 136.74L491.49 130.04L491.82 123.57L492.16 117.34L492.49 111.35L492.82 105.61L493.16 100.12L493.49 94.89L493.82 89.93L494.15 85.24L494.49 80.82L494.82 76.67L495.15 72.81L495.49 69.23L495.82 65.94L496.15 62.94L496.49 60.23L496.82 57.82L497.15 55.7L497.48 53.89L497.82 52.38L498.15 51.17L498.48 50.26L498.82 49.66L499.15 49.36L499.48 49.37L499.81 49.68L500.15 50.3L500.48 51.22L500.81 52.45L501.15 53.98L501.48 55.81L501.81 57.95L502.15 60.37L502.48 63.1L502.81 66.12L503.14 69.42L503.48 73.02L503.81 76.9L504.14 81.06L504.48 85.49L504.81 90.2L505.14 95.18L505.47 100.42L505.81 105.92L506.14 111.67L506.47 117.68L506.81 123.92L507.14 130.41L507.47 137.12L507.8 144.06L508.14 151.22L508.47 158.6L508.8 166.18L509.14 173.95L509.47 181.93L509.8 190.08L510.14 198.42L510.47 206.92L510.8 215.58L511.13 224.4L511.47 233.37L511.8 242.47L512.13 251.71L512.47 261.06L512.8 270.53L513.13 280.11L513.46 289.77L513.8 299.53L514.13 309.36L514.46 319.27L514.8 329.23L515.13 339.24L515.46 349.3L515.79 359.38L516.13 369.5L516.46 379.62L516.79 389.75L517.13 399.88L517.46 409.99L517.79 420.08L518.13 430.14L518.46 440.16L518.79 450.13L519.12 460.04L519.46 469.88L519.79 479.65L520.12 489.32L520.46 498.91L520.79 508.39L521.12 517.76L521.45 527.01L521.79 536.12L522.12 545.11L522.45 553.94L522.79 562.63L523.12 571.15L523.45 579.5L523.78 587.68L524.12 595.67L524.45 603.47L524.78 611.07L525.12 618.47L525.45 625.65L525.78 632.62L526.12 639.36L526.45 645.87L526.78 652.14L527.11 658.17L527.45 663.95L527.78 669.48L528.11 674.75L528.45 679.76L528.78 684.5L529.11 688.96L529.44 693.15L529.78 697.06L530.11 700.69L530.44 704.03L530.78 707.08L531.11 709.84L531.44 712.3L531.77 714.46L532.11 716.33L532.44 717.89L532.77 719.15L533.11 720.11L533.44 720.76L533.77 721.11L534.11 721.16L534.44 720.89L534.77 720.32L535.1 719.45L535.44 718.27L535.77 716.79L536.1 715.01L536.44 712.93L536.77 710.55L537.1 707.88L537.43 704.91L537.77 701.65L538.1 698.1L538.43 694.27L538.77 690.16L539.1 685.77L539.43 681.1L539.76 676.17L540.1 670.97L540.43 665.52L540.76 659.8L541.1 653.84L541.43 647.64L541.76 641.19L542.1 634.51L542.43 627.61L542.76 620.49L543.09 613.15L543.43 605.6L543.76 597.86L544.09 589.92L544.43 581.79L544.76 573.49L545.09 565.01L545.42 556.37L545.76 547.58L546.09 538.63L546.42 529.55L546.76 520.34L547.09 511L547.42 501.55L547.76 492L548.09 482.34L548.42 472.6L548.75 462.78L549.09 452.89L549.42 442.94L549.75 432.93L550.09 422.88L550.42 412.8L550.75 402.69L551.08 392.57L551.42 382.44L551.75 372.31L552.08 362.19L552.42 352.1L552.75 342.03L553.08 332L553.41 322.03L553.75 312.11L554.08 302.25L554.41 292.48L554.75 282.78L555.08 273.18L555.41 263.68L555.75 254.3L556.08 245.03L556.41 235.89L556.74 226.88L557.08 218.02L557.41 209.31L557.74 200.76L558.08 192.38L558.41 184.17L558.74 176.15L559.07 168.32L559.41 160.68L559.74 153.25L560.07 146.03L560.41 139.03L560.74 132.25L561.07 125.7L561.4 119.39L561.74 113.32L562.07 107.49L562.4 101.92L562.74 96.61L563.07 91.56L563.4 86.77L563.74 82.26L564.07 78.02L564.4 74.07L564.73 70.39L565.07 67.01L565.4 63.91L565.73 61.1L566.07 58.59L566.4 56.38L566.73 54.46L567.06 52.85L567.4 51.54L567.73 50.53L568.06 49.82L568.4 49.42L568.73 49.33L569.06 49.54L569.39 50.06L569.73 50.88L570.06 52.01L570.39 53.44L570.73 55.17L571.06 57.2L571.39 59.53L571.73 62.16L572.06 65.08L572.39 68.29L572.72 71.79L573.06 75.57L573.39 79.64L573.72 83.98L574.06 88.6L574.39 93.49L574.72 98.64L575.05 104.06L575.39 109.73L575.72 115.65L576.05 121.81L576.39 128.22L576.72 134.86L577.05 141.72L577.38 148.81L577.72 156.12L578.05 163.63L578.38 171.34L578.72 179.25L579.05 187.34L579.38 195.62L579.72 204.07L580.05 212.68L580.38 221.45L580.71 230.37L581.05 239.43L581.38 248.62L581.71 257.93L582.05 267.36L582.38 276.9L582.71 286.54L583.04 296.27L583.38 306.08L583.71 315.96L584.04 325.9L584.38 335.9L584.71 345.94L585.04 356.02L585.38 366.12L585.71 376.25L586.04 386.38L586.37 396.5L586.71 406.62L587.04 416.72L587.37 426.79L587.71 436.83L588.04 446.81L588.37 456.74L588.7 466.61L589.04 476.4L589.37 486.11L589.7 495.72L590.04 505.24L590.37 514.65L590.7 523.94L591.03 533.1L591.37 542.13L591.7 551.01L592.03 559.75L592.37 568.33L592.7 576.74L593.03 584.97L593.37 593.03L593.7 600.89L594.03 608.56L594.36 616.03L594.7 623.28L595.03 630.32L595.36 637.14L595.7 643.73L596.03 650.08L596.36 656.19L596.69 662.05L597.03 667.67L597.36 673.02L597.69 678.12L598.03 682.95L598.36 687.51L598.69 691.79L599.02 695.79L599.36 699.51L599.69 702.95L600.02 706.1L600.36 708.95L600.69 711.51L601.02 713.78L601.36 715.74L601.69 717.4L602.02 718.77L602.35 719.83L602.69 720.58L603.02 721.03L603.35 721.17L603.69 721.01L604.02 720.55L604.35 719.78L604.68 718.7L605.02 717.32L605.35 715.64L605.68 713.66L606.02 711.38L606.35 708.8L606.68 705.93L607.01 702.77L607.35 699.31L607.68 695.58L608.01 691.56L608.35 687.26L608.68 682.69L609.01 677.84L609.35 672.73L609.68 667.36L610.01 661.74L610.34 655.86L610.68 649.73L611.01 643.37L611.34 636.77L611.68 629.94L612.01 622.88L612.34 615.62L612.67 608.14L613.01 600.46L613.34 592.58L613.67 584.52L614.01 576.27L614.34 567.85L614.67 559.27L615 550.52L615.34 541.63L615.67 532.59L616 523.42L616.34 514.13L616.67 504.71L617 495.19L617.34 485.57L617.67 475.86L618 466.06L618.33 456.19L618.67 446.26L619 436.27L619.33 426.24L619.67 416.16L620 406.06L620.33 395.94L620.66 385.81L621 375.68L621.33 365.56L621.66 355.46L622 345.38L622.33 335.34L622.66 325.35L623 315.41L623.33 305.53L623.66 295.73L623.99 286L624.33 276.37L624.66 266.84L624.99 257.41L625.33 248.1L625.66 238.92L625.99 229.87L626.32 220.96L626.66 212.2L626.99 203.59L627.32 195.15L627.66 186.89L627.99 178.8L628.32 170.91L628.65 163.2L628.99 155.7L629.32 148.41L629.65 141.34L629.99 134.48L630.32 127.86L630.65 121.46L630.99 115.31L631.32 109.41L631.65 103.75L631.98 98.35L632.32 93.21L632.65 88.34L632.98 83.74L633.32 79.41L633.65 75.36L633.98 71.59L634.31 68.1L634.65 64.91L634.98 62L635.31 59.39L635.65 57.08L635.98 55.07L636.31 53.35L636.64 51.94L636.98 50.83L637.31 50.02L637.64 49.52L637.98 49.33L638.31 49.44L638.64 49.85L638.98 50.57L639.31 51.6L639.64 52.93L639.97 54.56L640.31 56.49L640.64 58.72L640.97 61.25L641.31 64.07L641.64 67.19L641.97 70.59L642.3 74.28L642.64 78.25L642.97 82.5L643.3 87.03L643.64 91.83L643.97 96.9L644.3 102.22L644.63 107.81L644.97 113.65L645.3 119.73L645.63 126.06L645.97 132.62L646.3 139.41L646.63 146.43L646.97 153.66L647.3 161.1L647.63 168.75L647.96 176.59L648.3 184.62L648.63 192.84L648.96 201.23L649.3 209.79L649.63 218.51L649.96 227.38L650.29 236.39L650.63 245.54L650.96 254.81L651.29 264.21L651.63 273.71L651.96 283.32L652.29 293.02L652.62 302.8L652.96 312.66L653.29 322.58L653.62 332.56L653.96 342.59L654.29 352.66L654.62 362.75L654.96 372.87L655.29 383L655.62 393.13L655.95 403.25L656.29 413.36L656.62 423.44L656.95 433.49L657.29 443.49L657.62 453.44L657.95 463.33L658.28 473.14L658.62 482.88L658.95 492.53L659.28 502.08L659.62 511.52L659.95 520.85L660.28 530.06L660.61 539.13L660.95 548.07L661.28 556.85L661.61 565.49L661.95 573.95L662.28 582.25L662.61 590.36L662.95 598.29L663.28 606.03L663.61 613.56L663.94 620.89L664.28 628L664.61 634.89L664.94 641.56L665.28 647.99L665.61 654.18L665.94 660.13L666.27 665.83L666.61 671.27L666.94 676.45L667.27 681.37L667.61 686.02L667.94 690.39L668.27 694.49L668.61 698.3L668.94 701.84L669.27 705.08L669.6 708.03L669.94 710.69L670.27 713.05L670.6 715.12L670.94 716.88L671.27 718.35L671.6 719.51L671.93 720.36L672.27 720.91L672.6 721.16L672.93 721.1L673.27 720.74L673.6 720.07L673.93 719.09L674.26 717.81L674.6 716.23L674.93 714.35L675.26 712.17L675.6 709.69L675.93 706.92L676.26 703.85L676.6 700.5L676.93 696.85L677.26 692.93L677.59 688.72L677.93 684.24L678.26 679.49L678.59 674.47L678.93 669.18L679.26 663.64L679.59 657.84L679.92 651.8L680.26 645.51L680.59 638.99L680.92 632.24L681.26 625.26L681.59 618.06L681.92 610.65L682.25 603.04L682.59 595.23L682.92 587.23L683.25 579.04L683.59 570.68L683.92 562.15L684.25 553.46L684.59 544.61L684.92 535.62L685.25 526.49L685.58 517.24L685.92 507.86L686.25 498.38L686.58 488.79L686.92 479.11L687.25 469.34L687.58 459.49L687.91 449.58L688.25 439.61L688.58 429.59L688.91 419.52L689.25 409.43L689.58 399.32L689.91 389.19L690.24 379.06L690.58 368.93L690.91 358.82L691.24 348.74L691.58 338.68L691.91 328.67L692.24 318.71L692.58 308.82L692.91 298.99L693.24 289.24L693.57 279.57L693.91 270L694.24 260.54L694.57 251.19L694.91 241.97L695.24 232.87L695.57 223.91L695.9 215.1L696.24 206.44L696.57 197.95L696.9 189.62L697.24 181.48L697.57 173.52L697.9 165.75L698.23 158.18L698.57 150.82L698.9 143.67L699.23 136.74L699.57 130.04L699.9 123.57L700.23 117.34L700.57 111.35L700.9 105.61L701.23 100.12L701.56 94.89L701.9 89.93L702.23 85.24L702.56 80.82L702.9 76.67L703.23 72.81L703.56 69.23L703.89 65.94L704.23 62.94L704.56 60.23L704.89 57.82L705.23 55.7L705.56 53.89L705.89 52.38L706.22 51.17L706.56 50.26L706.89 49.66L707.22 49.36L707.56 49.37L707.89 49.68L708.22 50.3L708.56 51.22L708.89 52.45L709.22 53.98L709.55 55.81L709.89 57.95L710.22 60.37L710.55 63.1L710.89 66.12L711.22 69.42L711.55 73.02L711.88 76.9L712.22 81.06L712.55 85.49L712.88 90.2L713.22 95.18L713.55 100.42L713.88 105.92L714.22 111.67L714.55 117.68L714.88 123.92L715.21 130.41L715.55 137.12L715.88 144.06L716.21 151.22L716.55 158.6L716.88 166.18L717.21 173.95L717.54 181.93L717.88 190.08L718.21 198.42L718.54 206.92L718.88 215.58L719.21 224.4L719.54 233.37L719.87 242.47L720.21 251.71L720.54 261.06L720.87 270.53L721.21 280.11L721.54 289.77L721.87 299.53L722.21 309.36L722.54 319.27L722.87 329.23L723.2 339.24L723.54 349.3L723.87 359.38L724.2 369.5L724.54 379.62L724.87 387.48L725.2 391.86L725.53 395.48L725.87 398.5L726.2 401.03L726.53 403.18L726.87 405.01L727.2 406.59L727.53 407.95L727.86 409.15L728.2 410.21L728.53 411.14L728.86 411.98L729.2 412.73L729.53 413.41L729.86 414.03L730.2 414.59L730.53 415.1L730.86 415.56L731.19 415.98L731.53 416.36L731.86 416.7L732.19 417.01L732.53 417.28L732.86 417.52L733.19 417.72L733.52 417.89L733.86 418.03L734.19 418.14L734.52 418.21L734.86 418.25L735.19 418.27L735.52 418.25L735.85 418.2L736.19 418.12L736.52 418.01L736.85 417.87L737.19 417.7L737.52 417.51L737.85 417.28L738.19 417.02L738.52 416.73L738.85 416.42L739.18 416.07L739.52 415.7L739.85 415.3L740.18 414.87L740.52 414.42L740.85 413.94L741.18 413.43L741.51 412.9L741.85 412.34L742.18 411.76L742.51 411.15L742.85 410.52L743.18 409.87L743.51 409.2L743.84 408.5L744.18 407.78L744.51 407.04L744.84 406.28L745.18 405.51L745.51 404.71L745.84 403.9L746.18 403.07L746.51 402.22L746.84 401.36L747.17 400.48L747.51 399.59L747.84 398.69L748.17 397.77L748.51 396.84L748.84 395.9L749.17 394.96L749.5 394L749.84 393.04L750.17 392.06L750.5 391.09L750.84 390.1L751.17 389.12L751.5 388.12L751.84 387.13L752.17 386.14L752.5 385.14L752.83 384.14L753.17 383.15L753.5 382.16L753.83 381.16L754.17 380.18L754.5 379.2L754.83 378.22L755.16 377.25L755.5 376.29L755.83 375.33L756.16 374.39L756.5 373.45L756.83 372.53L757.16 371.61L757.49 370.71L757.83 369.82L758.16 368.95L758.49 368.09L758.83 367.25L759.16 366.42L759.49 365.61L759.83 364.82L760.16 364.05L760.49 363.29L760.82 362.56L761.16 361.84L761.49 361.15L761.82 360.48L762.16 359.83L762.49 359.21L762.82 358.61L763.15 358.03L763.49 357.48L763.82 356.95L764.15 356.45L764.49 355.98L764.82 355.53L765.15 355.11L765.48 354.71L765.82 354.35L766.15 354.01L766.48 353.7L766.82 353.42L767.15 353.17L767.48 352.94L767.82 352.75L768.15 352.59L768.48 352.45L768.81 352.35L769.15 352.28L769.48 352.23L769.81 352.22L770.15 352.23L770.48 352.28L770.81 352.36L771.14 352.46L771.48 352.6L771.81 352.76L772.14 352.96L772.48 353.18L772.81 353.43L773.14 353.72L773.47 354.03L773.81 354.37L774.14 354.73L774.47 355.13L774.81 355.55L775.14 356L775.47 356.48L775.81 356.98L776.14 357.51L776.47 358.06L776.8 358.64L777.14 359.24L777.47 359.87L777.8 360.52L778.14 361.19L778.47 361.88L778.8 362.6L779.13 363.33L779.47 364.09L779.8 364.86L780.13 365.66L780.47 366.47L780.8 367.29L781.13 368.14L781.46 369L781.8 369.87L782.13 370.76L782.46 371.66L782.8 372.58L783.13 373.5L783.46 374.44L783.8 375.39L784.13 376.34L784.46 377.3L784.79 378.27L785.13 379.25L785.46 380.23L785.79 381.22L786.13 382.21L786.46 383.2L786.79 384.2L787.12 385.19L787.46 386.19L787.79 387.19L788.12 388.18L788.46 389.17L788.79 390.16L789.12 391.14L789.45 392.12L789.79 393.09L790.12 394.05L790.45 395.01L790.79 395.96L791.12 396.89L791.45 397.82L791.79 398.74L792.12 399.64L792.45 400.53L792.78 401.41L793.12 402.27L793.45 403.11L793.78 403.94L794.12 404.76L794.45 405.55L794.78 406.33L795.11 407.08L795.45 407.82L795.78 408.54L796.11 409.23L796.45 409.91L796.78 410.56L797.11 411.19L797.45 411.79L797.78 412.37L798.11 412.93L798.44 413.46L798.78 413.97L799.11 414.45L799.44 414.9L799.78 415.32L800.11 415.72L800.44 416.09L800.77 416.44L801.11 416.75L801.44 417.04L801.77 417.29L802.11 417.52L802.44 417.72L802.77 417.89L803.1 418.03L803.44 418.13L803.77 418.21L804.1 418.26L804.44 418.28L804.77 418.27L805.1 418.23L805.44 418.16L805.77 418.06L806.1 417.93L806.43 417.77L806.77 417.58L807.1 417.36L807.43 417.11L807.77 416.83L808.1 416.53L808.43 416.19L808.76 415.83L809.1 415.44L809.43 415.02L809.76 414.57L810.1 414.1L810.43 413.6L810.76 413.08L811.09 412.53L811.43 411.96L811.76 411.36L812.09 410.74L812.43 410.09L812.76 409.42L813.09 408.73L813.43 408.02L813.76 407.29L814.09 406.54L814.42 405.77L814.76 404.98L815.09 404.17L815.42 403.35L815.76 402.5L816.09 401.65L816.42 400.77L816.75 399.89L817.09 398.99L817.42 398.08L817.75 397.15L818.09 396.22L818.42 395.27L818.75 394.32L819.08 393.36L819.42 392.39L819.75 391.41L820.08 390.43L820.42 389.44L820.75 388.46L821.08 387.46L821.42 386.47L821.75 385.47L822.08 384.48L822.41 383.48L822.75 382.49L823.08 381.49L823.41 380.51L823.75 379.52L824.08 378.54L824.41 377.57L824.74 376.61L825.08 375.65L825.41 374.7L825.74 373.76L826.08 372.83L826.41 371.92L826.74 371.01L827.07 370.12L827.41 369.24L827.74 368.38L828.07 367.53L828.41 366.69L828.74 365.88L829.07 365.08L829.41 364.3L829.74 363.54L830.07 362.8L830.4 362.08L830.74 361.38L831.07 360.7L831.4 360.05L831.74 359.41L832.07 358.81L832.4 358.22L832.73 357.66L833.07 357.12L833.4 356.62L833.73 356.13L834.07 355.67L834.4 355.24L834.73 354.84L835.07 354.47L835.4 354.12L835.73 353.8L836.06 353.51L836.4 353.25L836.73 353.02L837.06 352.81L837.4 352.64L837.73 352.5L838.06 352.38L838.39 352.3L838.73 352.24L839.06 352.22L839.39 352.22L839.73 352.26L840.06 352.33L840.39 352.42L840.72 352.55L841.06 352.7L841.39 352.89L841.72 353.1L842.06 353.35L842.39 353.62L842.72 353.92L843.06 354.25L843.39 354.61L843.72 354.99L844.05 355.41L844.39 355.85L844.72 356.32L845.05 356.81L845.39 357.33L845.72 357.88L846.05 358.44L846.38 359.04L846.72 359.66L847.05 360.3L847.38 360.96L847.72 361.65L848.05 362.36L848.38 363.09L848.71 363.83L849.05 364.6L849.38 365.39L849.71 366.19L850.05 367.02L850.38 367.86L850.71 368.71L851.05 369.58L851.38 370.46L851.71 371.36L852.04 372.27L852.38 373.19L852.71 374.13L853.04 375.07L853.38 376.02L853.71 376.98L854.04 377.95L854.37 378.92L854.71 379.9L855.04 380.89L855.37 381.88L855.71 382.87L856.04 383.87L856.37 384.86L856.7 385.86L857.04 386.85L857.37 387.85L857.7 388.84L858.04 389.83L858.37 390.81L858.7 391.79L859.04 392.77L859.37 393.73L859.7 394.69L860.03 395.64L860.37 396.58L860.7 397.51L861.03 398.43L861.37 399.34L861.7 400.23L862.03 401.12L862.36 401.98L862.7 402.83L863.03 403.67L863.36 404.49L863.7 405.29L864.03 406.07L864.36 406.83L864.69 407.58L865.03 408.3L865.36 409.01L865.69 409.69L866.03 410.35L866.36 410.98L866.69 411.59L867.03 412.18L867.36 412.75L867.69 413.29L868.02 413.8L868.36 414.29L868.69 414.75L869.02 415.19L869.36 415.59L869.69 415.97L870.02 416.33L870.35 416.65L870.69 416.94L871.02 417.21L871.35 417.45L871.69 417.66L872.02 417.83L872.35 417.98L872.68 418.1L873.02 418.19L873.35 418.25L873.68 418.28L874.02 418.28L874.35 418.25L874.68 418.19L875.02 418.1L875.35 417.98L875.68 417.82L876.01 417.64L876.35 417.43L876.68 417.2L877.01 416.93L877.35 416.63L877.68 416.31L878.01 415.95L878.34 415.57L878.68 415.16L879.01 414.73L879.34 414.26L879.68 413.77L880.01 413.26L880.34 412.72L880.68 412.15L881.01 411.56L881.34 410.95L881.67 410.31L882.01 409.65L882.34 408.97L882.67 408.26L883.01 407.54L883.34 406.79L883.67 406.03L884 405.24L884.34 404.44L884.67 403.62L885 402.79L885.34 401.93L885.67 401.07L886 400.18L886.33 399.29L886.67 398.38L887 397.46L887.33 396.53L887.67 395.59L888 394.64L888.33 393.68L888.67 392.71L889 391.74L889.33 390.76L889.66 389.77L890 388.79L890.33 387.79L890.66 386.8L891 385.8L891.33 384.81L891.66 383.81L891.99 382.82L892.33 381.82L892.66 380.84L892.99 379.85L893.33 378.87L893.66 377.9L893.99 376.93L894.32 375.97L894.66 375.02L894.99 374.07L895.32 373.14L895.66 372.22L895.99 371.31L896.32 370.41L896.66 369.53L896.99 368.66L897.32 367.81L897.65 366.97L897.99 366.15L898.32 365.34L898.65 364.56L898.99 363.79L899.32 363.04L899.65 362.32L899.98 361.61L900.32 360.93L900.65 360.26L900.98 359.62L901.32 359.01L901.65 358.41L901.98 357.84L902.31 357.3L902.65 356.78L902.98 356.29L903.31 355.82L903.65 355.38L903.98 354.97L904.31 354.59L904.65 354.23L904.98 353.9L905.31 353.6L905.64 353.33L905.98 353.09L906.31 352.88L906.64 352.69L906.98 352.54L907.31 352.42L907.64 352.32L907.97 352.26L908.31 352.22L908.64 352.22L908.97 352.25L909.31 352.3L909.64 352.39L909.97 352.5L910.3 352.65L910.64 352.82L910.97 353.03L911.3 353.26L911.64 353.53L911.97 353.82L912.3 354.14L912.64 354.49L912.97 354.86L913.3 355.27L913.63 355.7L913.97 356.16L914.3 356.64" stroke="#000000" stroke-dasharray="15.7 3.55 8 3.65"/>
</g>
<path d="M82 758.5V749.5M290.07 758.5V749.5M498.15 758.5V749.5M706.22 758.5V749.5M914.3 758.5V749.5M82 758.5H91M82 665.19H91M82 571.88H91M82 478.56H91M82 385.25H91M82 291.94H91M82 198.62H91M82 105.31H91M82 12H91M82 11.35V758.5H914.95" stroke="#1c1c1c" stroke-width="1.5" fill="none"/>
<g font-size="26.0" fill="#262626" stroke="#262626" stroke-width="0.25">
<text x="82" y="793.5" text-anchor="middle">50</text>
<text x="290.07" y="793.5" text-anchor="middle">100</text>
<text x="498.15" y="793.5" text-anchor="middle">150</text>
<text x="706.22" y="793.5" text-anchor="middle">200</text>
<text x="914.3" y="793.5" text-anchor="middle">250</text>
<text x="69.7" y="768.1" text-anchor="end">-20</text>
<text x="69.7" y="674.79" text-anchor="end">-15</text>
<text x="69.7" y="581.48" text-anchor="end">-10</text>
<text x="69.7" y="488.16" text-anchor="end">-5</text>
<text x="69.7" y="394.85" text-anchor="end">0</text>
<text x="69.7" y="301.54" text-anchor="end">5</text>
<text x="69.7" y="208.22" text-anchor="end">10</text>
<text x="69.7" y="114.91" text-anchor="end">15</text>
<text x="69.7" y="21.6" text-anchor="end">20</text>
</g>
<text x="497.15" y="829.3" text-anchor="middle" font-size="28.4" fill="#262626" stroke="#262626" stroke-width="0.25">Time (ms)</text>
<text transform="translate(21.8 385.25) rotate(-90)" text-anchor="middle" font-size="28.55" fill="#262626" stroke="#262626" stroke-width="0.25" xml:space="preserve">Prospective Fault Current (kA)</text>
<rect x="773.9" y="33.4" width="119.1" height="103" fill="#fff" stroke="#262626" stroke-width="1.35"/>
<g fill="none" stroke-width="4.0">
<path d="M781.9 52.8H859.7" stroke="#0000ff"/>
<path d="M781.9 84.8H859.7" stroke="#ff0000" stroke-dasharray="15.45 15.45"/>
<path d="M781.9 116.8H859.7" stroke="#000000" stroke-dasharray="15.7 3.55 8 3.65"/>
</g>
<g font-size="25.2" fill="#000">
<text x="865.5" y="62.1">A</text>
<text x="865.5" y="94.1">B</text>
<text x="865.5" y="126.1">C</text>
</g>
<text x="468.4" y="881.7" text-anchor="middle" font-size="43.5" fill="#000" stroke="#000" stroke-width="0.3">a)</text>
<path d="M98.5 907.2V1645.3M301.1 907.2V1645.3M503.7 907.2V1645.3M706.3 907.2V1645.3M908.9 907.2V1645.3" stroke="#262626" stroke-opacity="0.17" stroke-width="1.3" fill="none"/>
<path d="M98.5 1645.3H908.9M98.5 1563.29H908.9M98.5 1481.28H908.9M98.5 1399.27H908.9M98.5 1317.26H908.9M98.5 1235.24H908.9M98.5 1153.23H908.9M98.5 1071.22H908.9M98.5 989.21H908.9M98.5 907.2H908.9" stroke="#262626" stroke-opacity="0.17" stroke-width="1.3" fill="none"/>
<clipPath id="c2"><rect x="95.5" y="904.2" width="816.4" height="744.1"/></clipPath>
<g clip-path="url(#c2)" fill="none" stroke-width="4.3" stroke-linejoin="round">
<path d="M98.5 1604.29L303.53 1604.29L304.48 1604.29L305.44 1604.24L306.39 1604.11L307.34 1603.86L308.29 1603.45L309.24 1602.85L310.2 1602.04L311.15 1600.99L312.1 1599.69L313.05 1598.13L314.01 1596.3L314.96 1594.21L315.91 1591.86L316.86 1589.28L317.81 1586.48L318.77 1583.5L319.72 1580.36L320.67 1577.09L321.62 1573.75L322.58 1570.36L323.53 1566.98L324.48 1563.63L325.43 1560.37L326.38 1557.23L327.34 1554.24L328.29 1551.44L329.24 1548.86L330.19 1546.52L331.15 1544.42L332.1 1542.6L333.05 1541.03L334 1539.73L334.95 1538.68L335.91 1537.87L336.86 1537.28L337.81 1536.87L338.76 1536.62L339.72 1536.49L340.67 1536.44L341.62 1536.43L342.46 1536.42L343.31 1536.38L344.15 1536.25L345 1536.02L345.84 1535.63L346.69 1535.07L347.53 1534.31L348.37 1533.32L349.22 1532.09L350.06 1530.62L350.91 1528.89L351.75 1526.92L352.59 1524.71L353.44 1522.28L354.28 1519.64L355.13 1516.83L355.97 1513.87L356.81 1510.79L357.66 1507.64L358.5 1504.45L359.35 1501.25L360.19 1498.1L361.04 1495.03L361.88 1492.06L362.72 1489.25L363.57 1486.61L364.41 1484.18L365.26 1481.97L366.1 1480L366.94 1478.27L367.79 1476.8L368.63 1475.57L369.48 1474.58L370.32 1473.82L371.17 1473.26L372.01 1472.87L372.85 1472.64L373.7 1472.51L374.54 1472.47L375.39 1472.46L376.23 1472.45L377.07 1472.41L377.92 1472.28L378.76 1472.04L379.61 1471.65L380.45 1471.07L381.3 1470.29L382.14 1469.28L382.98 1468.03L383.83 1466.52L384.67 1464.76L385.52 1462.74L386.36 1460.48L387.2 1457.99L388.05 1455.3L388.89 1452.42L389.74 1449.39L390.58 1446.25L391.43 1443.02L392.27 1439.76L393.11 1436.5L393.96 1433.27L394.8 1430.13L395.65 1427.1L396.49 1424.22L397.34 1421.53L398.18 1419.04L399.02 1416.78L399.87 1414.76L400.71 1413L401.56 1411.49L402.4 1410.24L403.24 1409.23L404.09 1408.45L404.93 1407.87L405.78 1407.48L406.62 1407.24L407.46 1407.11L408.31 1407.06L409.15 1407.06L410 1407.05L410.84 1407.01L411.69 1406.9L412.53 1406.69L413.37 1406.35L414.22 1405.85L415.06 1405.17L415.91 1404.29L416.75 1403.19L417.59 1401.88L418.44 1400.34L419.28 1398.59L420.13 1396.62L420.97 1394.45L421.82 1392.1L422.66 1389.59L423.5 1386.95L424.35 1384.21L425.19 1381.4L426.04 1378.56L426.88 1375.71L427.72 1372.91L428.57 1370.17L429.41 1367.53L430.26 1365.02L431.1 1362.67L431.95 1360.5L432.79 1358.53L433.63 1356.77L434.48 1355.24L435.32 1353.92L436.17 1352.83L437.01 1351.95L437.86 1351.27L438.7 1350.77L439.54 1350.43L440.39 1350.22L441.23 1350.11L442.08 1350.07L442.92 1350.06L443.76 1350.05L444.61 1350.01L445.45 1349.9L446.3 1349.69L447.14 1349.34L447.99 1348.83L448.83 1348.14L449.67 1347.25L450.52 1346.14L451.36 1344.81L452.21 1343.25L453.05 1341.47L453.89 1339.47L454.74 1337.27L455.58 1334.89L456.43 1332.34L457.27 1329.67L458.11 1326.89L458.96 1324.04L459.8 1321.15L460.65 1318.27L461.49 1315.42L462.34 1312.64L463.18 1309.96L464.02 1307.42L464.87 1305.03L465.71 1302.83L466.56 1300.84L467.4 1299.05L468.25 1297.49L469.09 1296.16L469.93 1295.05L470.78 1294.16L471.62 1293.47L472.47 1292.96L473.31 1292.62L474.15 1292.4L475 1292.29L475.84 1292.25L476.69 1292.24L477.53 1292.24L478.38 1292.2L479.22 1292.1L480.06 1291.9L480.91 1291.58L481.75 1291.12L482.6 1290.49L483.44 1289.67L484.28 1288.66L485.13 1287.44L485.97 1286.01L486.82 1284.38L487.66 1282.55L488.5 1280.54L489.35 1278.36L490.19 1276.03L491.04 1273.58L491.88 1271.04L492.73 1268.43L493.57 1265.79L494.41 1263.15L495.26 1260.55L496.1 1258L496.95 1255.56L497.79 1253.23L498.64 1251.05L499.48 1249.04L500.32 1247.21L501.17 1245.58L502.01 1244.15L502.86 1242.93L503.7 1241.92L504.54 1241.1L505.39 1240.47L506.23 1240L507.08 1239.69L507.92 1239.49L508.77 1239.39L509.61 1239.35L510.45 1239.35L511.3 1239.34L512.14 1239.3L512.99 1239.2L513.83 1239.01L514.67 1238.7L515.52 1238.24L516.36 1237.62L517.21 1236.82L518.05 1235.83L518.89 1234.63L519.74 1233.23L520.58 1231.63L521.43 1229.83L522.27 1227.86L523.12 1225.72L523.96 1223.44L524.8 1221.03L525.65 1218.54L526.49 1215.98L527.34 1213.39L528.18 1210.8L529.02 1208.24L529.87 1205.74L530.71 1203.34L531.56 1201.06L532.4 1198.92L533.25 1196.94L534.09 1195.15L534.93 1193.55L535.78 1192.15L536.62 1190.95L537.47 1189.96L538.31 1189.16L539.15 1188.53L540 1188.08L540.84 1187.77L541.69 1187.57L542.53 1187.47L543.38 1187.44L544.22 1187.43L545.06 1187.43L545.91 1187.39L546.75 1187.3L547.6 1187.11L548.44 1186.81L549.29 1186.37L550.13 1185.78L550.97 1185.01L551.82 1184.06L552.66 1182.91L553.51 1181.57L554.35 1180.03L555.19 1178.31L556.04 1176.42L556.88 1174.37L557.73 1172.18L558.57 1169.87L559.41 1167.48L560.26 1165.03L561.1 1162.54L561.95 1160.06L562.79 1157.6L563.64 1155.21L564.48 1152.91L565.32 1150.72L566.17 1148.66L567.01 1146.77L567.86 1145.05L568.7 1143.52L569.55 1142.17L570.39 1141.03L571.23 1140.07L572.08 1139.3L572.92 1138.71L573.77 1138.27L574.61 1137.97L575.45 1137.79L576.3 1137.69L577.14 1137.66L577.99 1137.65L578.83 1137.65L579.67 1137.61L580.52 1137.52L581.36 1137.33L582.21 1137.03L583.05 1136.6L583.9 1136L584.74 1135.24L585.58 1134.29L586.43 1133.14L587.27 1131.81L588.12 1130.28L588.96 1128.56L589.8 1126.67L590.65 1124.63L591.49 1122.45L592.34 1120.15L593.18 1117.76L594.03 1115.32L594.87 1112.84L595.71 1110.37L596.56 1107.92L597.4 1105.54L598.25 1103.24L599.09 1101.06L599.94 1099.01L600.78 1097.12L601.62 1095.41L602.47 1093.88L603.31 1092.54L604.16 1091.4L605 1090.45L605.84 1089.68L606.69 1089.09L607.53 1088.65L608.38 1088.35L609.22 1088.17L610.07 1088.08L610.91 1088.04L611.75 1088.03L612.6 1088.03L613.44 1088L614.29 1087.9L615.13 1087.73L615.97 1087.44L616.82 1087.02L617.66 1086.46L618.51 1085.72L619.35 1084.81L620.2 1083.71L621.04 1082.43L621.88 1080.96L622.73 1079.32L623.57 1077.51L624.42 1075.55L625.26 1073.46L626.1 1071.26L626.95 1068.97L627.79 1066.62L628.64 1064.25L629.48 1061.88L630.32 1059.53L631.17 1057.25L632.01 1055.04L632.86 1052.95L633.7 1050.99L634.55 1049.18L635.39 1047.54L636.23 1046.07L637.08 1044.79L637.92 1043.69L638.77 1042.78L639.61 1042.05L640.45 1041.48L641.3 1041.06L642.14 1040.77L642.99 1040.6L643.83 1040.51L644.68 1040.47L645.52 1040.47L646.36 1040.46L647.21 1040.43L648.05 1040.34L648.9 1040.16L649.74 1039.87L650.59 1039.44L651.43 1038.86L652.27 1038.11L653.12 1037.19L653.96 1036.07L654.81 1034.77L655.65 1033.28L656.49 1031.6L657.34 1029.76L658.18 1027.77L659.03 1025.64L659.87 1023.4L660.71 1021.07L661.56 1018.69L662.4 1016.27L663.25 1013.86L664.09 1011.48L664.94 1009.15L665.78 1006.91L666.62 1004.78L667.47 1002.79L668.31 1000.95L669.16 999.27L670 997.78L670.85 996.48L671.69 995.36L672.53 994.43L673.38 993.69L674.22 993.11L675.07 992.68L675.91 992.39L676.75 992.21L677.6 992.12L678.44 992.09L679.29 992.08L680.13 992.08L680.98 992.04L681.82 991.95L682.66 991.78L683.51 991.51L684.35 991.1L685.2 990.55L686.04 989.84L686.88 988.95L687.73 987.89L688.57 986.65L689.42 985.22L690.26 983.63L691.1 981.88L691.95 979.97L692.79 977.94L693.64 975.81L694.48 973.59L695.33 971.32L696.17 969.02L697.01 966.71L697.86 964.44L698.7 962.22L699.55 960.09L700.39 958.06L701.24 956.16L702.08 954.4L702.92 952.81L703.77 951.38L704.61 950.14L705.46 949.08L706.3 948.19L707.14 947.48L707.99 946.93L708.83 946.53L709.68 946.25L710.52 946.08L711.37 945.99L712.21 945.95L713.05 945.95L908.9 981.83" stroke="#0000ff"/>
<path d="M98.5 1604.29L304.34 1604.29L305.02 1604.29L305.7 1604.26L306.38 1604.18L307.06 1604.03L307.74 1603.79L308.41 1603.43L309.09 1602.95L309.77 1602.32L310.45 1601.54L311.13 1600.61L311.81 1599.51L312.49 1598.26L313.16 1596.86L313.84 1595.31L314.52 1593.64L315.2 1591.85L315.88 1589.97L316.56 1588.02L317.24 1586.02L317.92 1584L318.59 1581.97L319.27 1579.97L319.95 1578.02L320.63 1576.14L321.31 1574.35L321.99 1572.68L322.67 1571.14L323.35 1569.73L324.02 1568.48L324.7 1567.39L325.38 1566.45L326.06 1565.67L326.74 1565.05L327.42 1564.56L328.1 1564.2L328.78 1563.96L329.45 1563.81L330.13 1563.73L330.81 1563.7L331.49 1563.7L332.33 1563.7L333.18 1563.67L334.02 1563.6L334.87 1563.47L335.71 1563.25L336.56 1562.93L337.4 1562.5L338.24 1561.94L339.09 1561.25L339.93 1560.42L340.78 1559.45L341.62 1558.34L342.46 1557.09L343.31 1555.72L344.15 1554.23L345 1552.64L345.84 1550.97L346.69 1549.24L347.53 1547.46L348.37 1545.66L349.22 1543.86L350.06 1542.08L350.91 1540.34L351.75 1538.67L352.59 1537.08L353.44 1535.6L354.28 1534.22L355.13 1532.98L355.97 1531.87L356.81 1530.89L357.66 1530.06L358.5 1529.37L359.35 1528.81L360.19 1528.38L361.04 1528.06L361.88 1527.85L362.72 1527.71L363.57 1527.64L364.41 1527.62L365.26 1527.61L366.1 1527.61L366.94 1527.58L367.79 1527.5L368.63 1527.34L369.48 1527.09L370.32 1526.73L371.17 1526.23L372.01 1525.58L372.85 1524.78L373.7 1523.81L374.54 1522.69L375.39 1521.4L376.23 1519.95L377.07 1518.36L377.92 1516.64L378.76 1514.8L379.61 1512.86L380.45 1510.85L381.3 1508.79L382.14 1506.7L382.98 1504.61L383.83 1502.55L384.67 1500.54L385.52 1498.61L386.36 1496.77L387.2 1495.04L388.05 1493.45L388.89 1492.01L389.74 1490.72L390.58 1489.59L391.43 1488.62L392.27 1487.82L393.11 1487.18L393.96 1486.68L394.8 1486.31L395.65 1486.06L396.49 1485.9L397.34 1485.82L398.18 1485.79L399.02 1485.79L399.87 1485.78L400.71 1485.75L401.56 1485.66L402.4 1485.49L403.24 1485.21L404.09 1484.8L404.93 1484.24L405.78 1483.51L406.62 1482.62L407.46 1481.54L408.31 1480.28L409.15 1478.84L410 1477.22L410.84 1475.45L411.69 1473.52L412.53 1471.46L413.37 1469.3L414.22 1467.05L415.06 1464.75L415.91 1462.42L416.75 1460.08L417.59 1457.78L418.44 1455.53L419.28 1453.37L420.13 1451.31L420.97 1449.38L421.82 1447.61L422.66 1445.99L423.5 1444.55L424.35 1443.29L425.19 1442.21L426.04 1441.32L426.88 1440.59L427.72 1440.03L428.57 1439.62L429.41 1439.34L430.26 1439.17L431.1 1439.08L431.95 1439.05L432.79 1439.04L433.63 1439.04L434.48 1439.01L435.32 1438.92L436.17 1438.77L437.01 1438.51L437.86 1438.14L438.7 1437.63L439.54 1436.97L440.39 1436.15L441.23 1435.17L442.08 1434.02L442.92 1432.7L443.76 1431.23L444.61 1429.61L445.45 1427.85L446.3 1425.97L447.14 1424L447.99 1421.95L448.83 1419.85L449.67 1417.72L450.52 1415.59L451.36 1413.49L452.21 1411.44L453.05 1409.47L453.89 1407.59L454.74 1405.83L455.58 1404.21L456.43 1402.73L457.27 1401.42L458.11 1400.27L458.96 1399.29L459.8 1398.47L460.65 1397.81L461.49 1397.3L462.34 1396.93L463.18 1396.67L464.02 1396.51L464.87 1396.43L465.71 1396.4L466.56 1396.4L467.4 1396.39L468.25 1396.36L469.09 1396.28L469.93 1396.13L470.78 1395.89L471.62 1395.53L472.47 1395.04L473.31 1394.4L474.15 1393.62L475 1392.67L475.84 1391.57L476.69 1390.3L477.53 1388.88L478.38 1387.32L479.22 1385.63L480.06 1383.83L480.91 1381.93L481.75 1379.96L482.6 1377.94L483.44 1375.89L484.28 1373.85L485.13 1371.83L485.97 1369.86L486.82 1367.96L487.66 1366.15L488.51 1364.46L489.35 1362.9L490.19 1361.49L491.04 1360.22L491.88 1359.12L492.73 1358.17L493.57 1357.39L494.41 1356.75L495.26 1356.26L496.1 1355.9L496.95 1355.66L497.79 1355.5L498.64 1355.42L499.48 1355.39L500.32 1355.39L501.17 1355.39L502.01 1355.36L502.86 1355.28L503.7 1355.14L504.54 1354.91L505.39 1354.56L506.23 1354.1L507.08 1353.5L507.92 1352.75L508.76 1351.85L509.61 1350.8L510.45 1349.6L511.3 1348.25L512.14 1346.77L512.99 1345.17L513.83 1343.45L514.67 1341.65L515.52 1339.78L516.36 1337.86L517.21 1335.91L518.05 1333.97L518.89 1332.05L519.74 1330.18L520.58 1328.37L521.43 1326.66L522.27 1325.05L523.12 1323.57L523.96 1322.23L524.8 1321.02L525.65 1319.97L526.49 1319.08L527.34 1318.33L528.18 1317.73L529.02 1317.26L529.87 1316.92L530.71 1316.69L531.56 1316.54L532.4 1316.47L533.25 1316.44L534.09 1316.44L534.93 1316.43L535.78 1316.4L536.62 1316.33L537.47 1316.19L538.31 1315.97L539.15 1315.63L540 1315.18L540.84 1314.6L541.69 1313.88L542.53 1313.01L543.38 1311.99L544.22 1310.83L545.06 1309.52L545.91 1308.09L546.75 1306.53L547.6 1304.87L548.44 1303.13L549.29 1301.31L550.13 1299.46L550.97 1297.57L551.82 1295.69L552.66 1293.83L553.51 1292.02L554.35 1290.27L555.19 1288.61L556.04 1287.06L556.88 1285.62L557.73 1284.32L558.57 1283.15L559.41 1282.14L560.26 1281.27L561.1 1280.55L561.95 1279.96L562.79 1279.51L563.64 1279.18L564.48 1278.95L565.32 1278.81L566.17 1278.74L567.01 1278.71L567.86 1278.71L568.7 1278.71L569.55 1278.68L570.39 1278.61L571.23 1278.47L572.08 1278.25L572.92 1277.92L573.77 1277.47L574.61 1276.9L575.45 1276.18L576.3 1275.32L577.14 1274.31L577.99 1273.16L578.83 1271.87L579.67 1270.45L580.52 1268.92L581.36 1267.28L582.21 1265.55L583.05 1263.75L583.9 1261.91L584.74 1260.05L585.58 1258.19L586.43 1256.35L587.27 1254.56L588.12 1252.83L588.96 1251.19L589.81 1249.65L590.65 1248.23L591.49 1246.94L592.34 1245.79L593.18 1244.79L594.03 1243.93L594.87 1243.21L595.71 1242.63L596.56 1242.19L597.4 1241.86L598.25 1241.64L599.09 1241.5L599.94 1241.43L600.78 1241.4L601.62 1241.4L602.47 1241.39L603.31 1241.37L604.16 1241.3L605 1241.16L605.84 1240.94L606.69 1240.62L607.53 1240.18L608.38 1239.62L609.22 1238.92L610.06 1238.08L610.91 1237.1L611.75 1235.97L612.6 1234.71L613.44 1233.32L614.29 1231.82L615.13 1230.21L615.97 1228.52L616.82 1226.77L617.66 1224.97L618.51 1223.15L619.35 1221.33L620.2 1219.53L621.04 1217.77L621.88 1216.08L622.73 1214.48L623.57 1212.97L624.42 1211.59L625.26 1210.32L626.1 1209.2L626.95 1208.22L627.79 1207.37L628.64 1206.68L629.48 1206.11L630.32 1205.68L631.17 1205.36L632.01 1205.14L632.86 1205L633.7 1204.93L634.55 1204.9L635.39 1204.9L636.23 1204.9L637.08 1204.87L637.92 1204.81L638.77 1204.68L639.61 1204.48L640.45 1204.19L641.3 1203.78L642.14 1203.27L642.99 1202.62L643.83 1201.85L644.68 1200.94L645.52 1199.9L646.36 1198.74L647.21 1197.46L648.05 1196.08L648.9 1194.6L649.74 1193.04L650.59 1191.42L651.43 1189.77L652.27 1188.09L653.12 1186.41L653.96 1184.75L654.81 1183.14L655.65 1181.58L656.49 1180.1L657.34 1178.71L658.18 1177.44L659.03 1176.27L659.87 1175.24L660.71 1174.33L661.56 1173.56L662.4 1172.91L663.25 1172.39L664.09 1171.99L664.94 1171.69L665.78 1171.49L666.62 1171.37L667.47 1171.3L668.31 1171.28L669.16 1171.28L670 1171.27L670.85 1171.25L671.69 1171.18L672.53 1171.05L673.38 1170.85L674.22 1170.54L675.07 1170.13L675.91 1169.6L676.75 1168.94L677.6 1168.15L678.44 1167.22L679.29 1166.16L680.13 1164.97L680.98 1163.66L681.82 1162.24L682.66 1160.72L683.51 1159.13L684.35 1157.47L685.2 1155.77L686.04 1154.05L686.88 1152.33L687.73 1150.64L688.57 1148.98L689.42 1147.39L690.26 1145.87L691.11 1144.45L691.95 1143.14L692.79 1141.95L693.64 1140.89L694.48 1139.96L695.33 1139.17L696.17 1138.51L697.01 1137.97L697.86 1137.56L698.7 1137.26L699.55 1137.05L700.39 1136.93L701.24 1136.86L702.08 1136.83L702.92 1136.83L703.77 1136.83L704.61 1136.82L705.46 1136.78L706.3 1136.7L707.14 1136.59L707.99 1136.41L708.83 1136.18L709.68 1135.87L710.52 1135.5L711.37 1135.04L712.21 1134.51L713.05 1133.91L713.9 1133.23L714.74 1132.48L715.59 1131.67L716.43 1130.8L717.27 1129.89L718.12 1128.94L718.96 1127.97L719.81 1126.99L720.65 1126.01L721.5 1125.04L722.34 1124.09L723.18 1123.18L724.03 1122.31L724.87 1121.5L725.72 1120.75L726.56 1120.07L727.4 1119.47L728.25 1118.94L729.09 1118.48L729.94 1118.11L730.78 1117.8L731.62 1117.57L732.47 1117.39L733.31 1117.28L734.16 1117.2L735 1117.16L735.85 1117.15L736.69 1117.15L908.9 1137.65" stroke="#ff0000" stroke-dasharray="15.45 15.45"/>
<path d="M98.5 1604.29L320.55 1604.29L321.39 1601.87L322.24 1599.58L323.08 1597.41L323.93 1595.38L324.77 1593.46L325.61 1591.66L326.46 1589.97L327.3 1588.39L328.15 1586.92L328.99 1585.54L329.84 1584.27L330.68 1583.08L331.52 1581.99L332.37 1580.98L333.21 1580.06L334.06 1579.21L334.9 1578.43L335.74 1577.73L336.59 1577.09L337.43 1576.52L338.28 1576.01L339.12 1575.55L339.97 1575.15L340.81 1574.79L341.65 1574.48L342.5 1574.21L343.34 1573.98L344.19 1573.79L345.03 1573.63L345.87 1573.5L346.72 1573.39L347.56 1573.31L348.41 1573.25L349.25 1573.2L350.1 1573.17L350.94 1573.15L351.78 1573.14L352.63 1573.13L353.47 1573.13L354.32 1573.13L355.16 1571.38L356 1569.72L356.85 1568.15L357.69 1566.68L358.54 1565.29L359.38 1563.98L360.23 1562.76L361.07 1561.62L361.91 1560.55L362.76 1559.56L363.6 1558.64L364.45 1557.78L365.29 1556.99L366.13 1556.26L366.98 1555.59L367.82 1554.98L368.67 1554.42L369.51 1553.91L370.36 1553.45L371.2 1553.03L372.04 1552.66L372.89 1552.33L373.73 1552.04L374.58 1551.78L375.42 1551.55L376.26 1551.36L377.11 1551.2L377.95 1551.06L378.8 1550.94L379.64 1550.84L380.49 1550.77L381.33 1550.71L382.17 1550.66L383.02 1550.63L383.86 1550.61L384.71 1550.59L385.55 1550.58L386.39 1550.58L387.24 1550.58L388.08 1550.58L388.93 1549.01L389.77 1547.51L390.62 1546.07L391.46 1544.71L392.3 1543.41L393.15 1542.18L393.99 1541.01L394.84 1539.91L395.68 1538.86L396.52 1537.88L397.37 1536.95L398.21 1536.07L399.06 1535.25L399.9 1534.49L400.75 1533.77L401.59 1533.11L402.43 1532.49L403.28 1531.92L404.12 1531.39L404.97 1530.91L405.81 1530.47L406.65 1530.07L407.5 1529.71L408.34 1529.38L409.19 1529.09L410.03 1528.83L410.88 1528.6L411.72 1528.4L412.56 1528.23L413.41 1528.09L414.25 1527.97L415.1 1527.87L415.94 1527.79L416.78 1527.73L417.63 1527.68L418.47 1527.65L419.32 1527.63L420.16 1527.62L421.01 1527.61L421.85 1527.61L422.69 1525.95L423.54 1524.34L424.38 1522.76L425.23 1521.23L426.07 1519.73L426.91 1518.28L427.76 1516.88L428.6 1515.51L429.45 1514.19L430.29 1512.9L431.14 1511.66L431.98 1510.47L432.82 1509.31L433.67 1508.2L434.51 1507.12L435.36 1506.09L436.2 1505.11L437.04 1504.16L437.89 1503.26L438.73 1502.4L439.58 1501.58L440.42 1500.8L441.27 1500.06L442.11 1499.37L442.95 1498.72L443.8 1498.11L444.64 1497.54L445.49 1497.02L446.33 1496.53L447.17 1496.09L448.02 1495.69L448.86 1495.33L449.71 1495.02L450.55 1494.75L451.4 1494.51L452.24 1494.33L453.08 1494.18L453.93 1494.07L454.77 1494.01L455.62 1493.99L456.46 1492.23L457.3 1490.51L458.15 1488.85L458.99 1487.23L459.84 1485.67L460.68 1484.15L461.53 1482.68L462.37 1481.26L463.21 1479.88L464.06 1478.56L464.9 1477.28L465.75 1476.05L466.59 1474.86L467.43 1473.73L468.28 1472.64L469.12 1471.6L469.97 1470.6L470.81 1469.65L471.66 1468.75L472.5 1467.89L473.34 1467.08L474.19 1466.32L475.03 1465.6L475.88 1464.92L476.72 1464.29L477.56 1463.71L478.41 1463.17L479.25 1462.67L480.1 1462.22L480.94 1461.81L481.79 1461.44L482.63 1461.11L483.47 1460.83L484.32 1460.59L485.16 1460.39L486.01 1460.23L486.85 1460.1L487.69 1460.02L488.54 1459.97L489.38 1459.95L490.23 1458.22L491.07 1456.54L491.92 1454.91L492.76 1453.34L493.6 1451.81L494.45 1450.34L495.29 1448.92L496.14 1447.55L496.98 1446.23L497.82 1444.96L498.67 1443.74L499.51 1442.56L500.36 1441.44L501.2 1440.37L502.05 1439.34L502.89 1438.37L503.73 1437.44L504.58 1436.56L505.42 1435.72L506.27 1434.93L507.11 1434.19L507.95 1433.49L508.8 1432.84L509.64 1432.23L510.49 1431.67L511.33 1431.15L512.18 1430.67L513.02 1430.23L513.86 1429.84L514.71 1429.49L515.55 1429.17L516.4 1428.9L517.24 1428.66L518.08 1428.46L518.93 1428.3L519.77 1428.17L520.62 1428.08L521.46 1428.01L522.31 1427.98L523.15 1427.97L523.99 1426.3L524.84 1424.69L525.68 1423.12L526.53 1421.61L527.37 1420.14L528.21 1418.73L529.06 1417.36L529.9 1416.04L530.75 1414.77L531.59 1413.55L532.44 1412.37L533.28 1411.25L534.12 1410.17L534.97 1409.14L535.81 1408.15L536.66 1407.21L537.5 1406.32L538.34 1405.47L539.19 1404.67L540.03 1403.91L540.88 1403.2L541.72 1402.52L542.57 1401.9L543.41 1401.31L544.25 1400.77L545.1 1400.27L545.94 1399.81L546.79 1399.39L547.63 1399.01L548.47 1398.67L549.32 1398.37L550.16 1398.11L551.01 1397.88L551.85 1397.69L552.7 1397.53L553.54 1397.41L554.38 1397.32L555.23 1397.26L556.07 1397.23L556.92 1397.22L557.76 1395.68L558.6 1394.2L559.45 1392.76L560.29 1391.36L561.14 1390.01L561.98 1388.71L562.83 1387.45L563.67 1386.24L564.51 1385.07L565.36 1383.95L566.2 1382.87L567.05 1381.83L567.89 1380.84L568.73 1379.89L569.58 1378.98L570.42 1378.12L571.27 1377.3L572.11 1376.52L572.96 1375.78L573.8 1375.08L574.64 1374.42L575.49 1373.81L576.33 1373.23L577.18 1372.69L578.02 1372.19L578.86 1371.73L579.71 1371.31L580.55 1370.92L581.4 1370.58L582.24 1370.26L583.09 1369.99L583.93 1369.74L584.77 1369.53L585.62 1369.36L586.46 1369.21L587.31 1369.1L588.15 1369.02L588.99 1368.96L589.84 1368.93L590.68 1368.92L591.53 1367.46L592.37 1366.03L593.22 1364.66L594.06 1363.32L594.9 1362.03L595.75 1360.79L596.59 1359.58L597.44 1358.42L598.28 1357.31L599.12 1356.23L599.97 1355.2L600.81 1354.21L601.66 1353.26L602.5 1352.35L603.35 1351.48L604.19 1350.66L605.03 1349.87L605.88 1349.12L606.72 1348.42L607.57 1347.75L608.41 1347.12L609.25 1346.53L610.1 1345.98L610.94 1345.46L611.79 1344.99L612.63 1344.55L613.48 1344.14L614.32 1343.77L615.16 1343.44L616.01 1343.14L616.85 1342.88L617.7 1342.64L618.54 1342.44L619.38 1342.28L620.23 1342.14L621.07 1342.03L621.92 1341.95L622.76 1341.9L623.61 1341.87L624.45 1341.86L625.29 1340.41L626.14 1339.01L626.98 1337.66L627.83 1336.34L628.67 1335.07L629.51 1333.85L630.36 1332.66L631.2 1331.52L632.05 1330.42L632.89 1329.36L633.74 1328.34L634.58 1327.37L635.42 1326.43L636.27 1325.54L637.11 1324.68L637.96 1323.87L638.8 1323.09L639.64 1322.36L640.49 1321.66L641.33 1321.01L642.18 1320.39L643.02 1319.81L643.87 1319.26L644.71 1318.76L645.55 1318.29L646.4 1317.85L647.24 1317.45L648.09 1317.09L648.93 1316.76L649.77 1316.47L650.62 1316.21L651.46 1315.98L652.31 1315.78L653.15 1315.62L654 1315.48L654.84 1315.37L655.68 1315.29L656.53 1315.24L657.37 1315.21L658.22 1315.21L659.06 1313.74L659.9 1312.32L660.75 1310.94L661.59 1309.61L662.44 1308.32L663.28 1307.07L664.13 1305.87L664.97 1304.71L665.81 1303.59L666.66 1302.51L667.5 1301.48L668.35 1300.49L669.19 1299.54L670.03 1298.63L670.88 1297.76L671.72 1296.94L672.57 1296.15L673.41 1295.41L674.26 1294.7L675.1 1294.03L675.94 1293.4L676.79 1292.81L677.63 1292.26L678.48 1291.75L679.32 1291.27L680.16 1290.83L681.01 1290.42L681.85 1290.06L682.7 1289.72L683.54 1289.42L684.39 1289.16L685.23 1288.93L686.07 1288.73L686.92 1288.56L687.76 1288.42L688.61 1288.31L689.45 1288.23L690.29 1288.18L691.14 1288.15L691.98 1288.14L692.83 1286.83L693.67 1285.56L694.52 1284.33L695.36 1283.14L696.2 1281.98L697.05 1280.87L697.89 1279.79L698.74 1278.76L699.58 1277.76L700.42 1276.8L701.27 1275.87L702.11 1274.99L702.96 1274.14L703.8 1273.33L704.65 1272.55L705.49 1271.81L706.33 1271.11L707.18 1270.44L708.02 1269.81L708.87 1269.21L709.71 1268.65L710.55 1268.12L711.4 1267.63L712.24 1267.17L713.09 1266.74L713.93 1266.35L714.78 1265.99L715.62 1265.66L716.46 1265.36L717.31 1265.09L718.15 1264.86L719 1264.65L719.84 1264.47L720.68 1264.32L721.53 1264.2L722.37 1264.1L723.22 1264.03L724.06 1263.98L724.91 1263.96L725.75 1263.95L908.9 1276.25" stroke="#000000" stroke-dasharray="15.7 3.55 8 3.65"/>
</g>
<path d="M98.5 1645.3V1636.3M301.1 1645.3V1636.3M503.7 1645.3V1636.3M706.3 1645.3V1636.3M908.9 1645.3V1636.3M98.5 1645.3H107.5M98.5 1563.29H107.5M98.5 1481.28H107.5M98.5 1399.27H107.5M98.5 1317.26H107.5M98.5 1235.24H107.5M98.5 1153.23H107.5M98.5 1071.22H107.5M98.5 989.21H107.5M98.5 907.2H107.5M98.5 906.55V1645.3H909.55" stroke="#1c1c1c" stroke-width="1.5" fill="none"/>
<g font-size="25.0" fill="#262626" stroke="#262626" stroke-width="0.25">
<text x="98.5" y="1680.3" text-anchor="middle">50</text>
<text x="301.1" y="1680.3" text-anchor="middle">100</text>
<text x="503.7" y="1680.3" text-anchor="middle">150</text>
<text x="706.3" y="1680.3" text-anchor="middle">200</text>
<text x="908.9" y="1680.3" text-anchor="middle">250</text>
<text x="87.3" y="1654.9" text-anchor="end">60</text>
<text x="87.3" y="1572.89" text-anchor="end">80</text>
<text x="87.3" y="1490.88" text-anchor="end">100</text>
<text x="87.3" y="1408.87" text-anchor="end">120</text>
<text x="87.3" y="1326.86" text-anchor="end">140</text>
<text x="87.3" y="1244.84" text-anchor="end">160</text>
<text x="87.3" y="1162.83" text-anchor="end">180</text>
<text x="87.3" y="1080.82" text-anchor="end">200</text>
<text x="87.3" y="998.81" text-anchor="end">220</text>
<text x="87.3" y="916.8" text-anchor="end">240</text>
</g>
<text x="502.7" y="1716.1" text-anchor="middle" font-size="28.4" fill="#262626" stroke="#262626" stroke-width="0.25">Time (ms)</text>
<text transform="translate(35.8 1278.9) rotate(-90)" text-anchor="middle" font-size="28.35" fill="#262626" stroke="#262626" stroke-width="0.25" xml:space="preserve">ReBCO Tapes Temperature (K)</text>
<rect x="105.9" y="916" width="117.7" height="102.4" fill="#fff" stroke="#262626" stroke-width="1.35"/>
<g fill="none" stroke-width="4.1">
<path d="M113.9 935.9H190.8" stroke="#0000ff"/>
<path d="M113.9 967.3H190.8" stroke="#ff0000" stroke-dasharray="15.37 15.37"/>
<path d="M113.9 998.8H190.8" stroke="#000000" stroke-dasharray="15.62 3.53 7.96 3.63"/>
</g>
<g font-size="25.2" fill="#000">
<text x="196.6" y="945.2">A</text>
<text x="196.6" y="976.6">B</text>
<text x="196.6" y="1008.1">C</text>
</g>
<text x="467.5" y="1764.8" text-anchor="middle" font-size="43.5" fill="#000" stroke="#000" stroke-width="0.3">b)</text>
<path d="M68.5 1812V2571.6M279.38 1812V2571.6M490.25 1812V2571.6M701.12 1812V2571.6M912 1812V2571.6" stroke="#262626" stroke-opacity="0.17" stroke-width="1.3" fill="none"/>
<path d="M68.5 2571.6H912M68.5 2463.09H912M68.5 2354.57H912M68.5 2246.06H912M68.5 2137.54H912M68.5 2029.03H912M68.5 1920.51H912M68.5 1812H912" stroke="#262626" stroke-opacity="0.17" stroke-width="1.3" fill="none"/>
<clipPath id="c3"><rect x="65.5" y="1809" width="849.5" height="765.6"/></clipPath>
<g clip-path="url(#c3)" fill="none" stroke-width="4.4" stroke-linejoin="round">
<path d="M68.5 2565.96L282.75 2565.96L309.32 2336.12L311.01 2191.8L312.48 2012.75L313.96 1985.62L315.22 1983.45L319.23 1983.45L320.5 2565.96L322.39 2565.96L326.19 2502.15L327.88 2441.38L328.51 2322.02L328.8 1915.63L912 1915.63" stroke="#0000ff"/>
<path d="M68.5 2568.34L279.38 2568.34L306.79 2387.13L307.63 2568.34L308.48 2568.34L342 2366.51L342.64 2568.34L349.39 2568.34L349.89 1974.77L350.86 1953.07L352.76 1948.19L912 1948.19" stroke="#ff0000" stroke-dasharray="15.87 15.87"/>
<path d="M68.5 2569.97L280.64 2569.97L293.29 2499.98L293.71 2569.97L299.2 2569.97L330.41 2418.59L330.83 2569.97L335.47 2569.97L364.57 2424.02L365.41 2569.97L369.63 2569.97L381.86 2502.15L383.97 2441.38L384.6 2322.02L385.45 2077.86L386.71 2048.56L388.61 2042.05L400.08 2042.05L401.09 2547.73L401.77 2562.92L403.37 2567.8L406.74 2567.8L408.26 2562.92L408.85 2547.73L409.27 2042.05L912 2042.05" stroke="#000000" stroke-dasharray="16.12 3.65 8.22 3.75"/>
</g>
<path d="M68.5 2571.6V2562.6M279.38 2571.6V2562.6M490.25 2571.6V2562.6M701.12 2571.6V2562.6M912 2571.6V2562.6M68.5 2571.6H77.5M68.5 2463.09H77.5M68.5 2354.57H77.5M68.5 2246.06H77.5M68.5 2137.54H77.5M68.5 2029.03H77.5M68.5 1920.51H77.5M68.5 1812H77.5M68.5 1811.35V2571.6H912.65" stroke="#1c1c1c" stroke-width="1.5" fill="none"/>
<g font-size="26.0" fill="#262626" stroke="#262626" stroke-width="0.25">
<text x="68.5" y="2606.6" text-anchor="middle">50</text>
<text x="279.38" y="2606.6" text-anchor="middle">100</text>
<text x="490.25" y="2606.6" text-anchor="middle">150</text>
<text x="701.12" y="2606.6" text-anchor="middle">200</text>
<text x="912" y="2606.6" text-anchor="middle">250</text>
<text x="56.4" y="2581.2" text-anchor="end">0</text>
<text x="56.4" y="2472.69" text-anchor="end">1</text>
<text x="56.4" y="2364.17" text-anchor="end">2</text>
<text x="56.4" y="2255.66" text-anchor="end">3</text>
<text x="56.4" y="2147.14" text-anchor="end">4</text>
<text x="56.4" y="2038.63" text-anchor="end">5</text>
<text x="56.4" y="1930.11" text-anchor="end">6</text>
<text x="56.4" y="1821.6" text-anchor="end">7</text>
</g>
<text x="489.25" y="2643.6" text-anchor="middle" font-size="28.4" fill="#262626" stroke="#262626" stroke-width="0.25">Time (ms)</text>
<text transform="translate(28.3 2191.9) rotate(-90)" text-anchor="middle" font-size="28.85" fill="#262626" stroke="#262626" stroke-width="0.25" xml:space="preserve">Total Equivalent Resistance of each Phase ( Ω)</text>
<rect x="770.7" y="1833.7" width="119.6" height="93" fill="#fff" stroke="#262626" stroke-width="1.35"/>
<g fill="none" stroke-width="4.3">
<path d="M779 1851.2H858.5" stroke="#0000ff"/>
<path d="M779 1880.1H858.5" stroke="#ff0000" stroke-dasharray="15.9 15.9"/>
<path d="M779 1908.8H858.5" stroke="#000000" stroke-dasharray="16.16 3.65 8.23 3.76"/>
</g>
<g font-size="25.2" fill="#000">
<text x="864.3" y="1860.5">A</text>
<text x="864.3" y="1889.4">B</text>
<text x="864.3" y="1918.1">C</text>
</g>
<text x="69.7" y="1808.2" font-size="32" fill="#262626">×</text>
<text x="90.6" y="1805.2" font-size="26.0" fill="#262626">10</text>
<text x="117.3" y="1792.5" font-size="20.3" fill="#262626">-3</text>
<text x="468" y="2690.2" text-anchor="middle" font-size="43.5" fill="#000" stroke="#000" stroke-width="0.3">c)</text>
</svg>
</body></html>
